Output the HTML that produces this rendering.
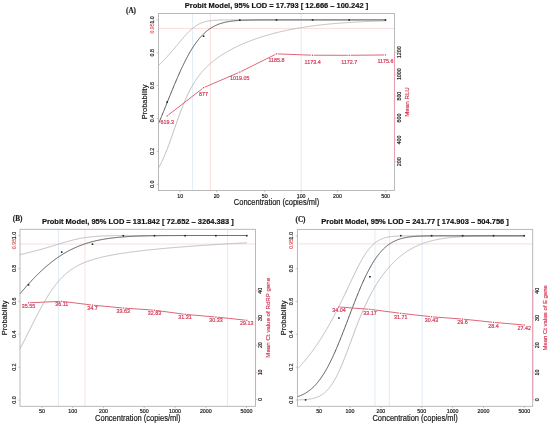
<!DOCTYPE html>
<html><head><meta charset="utf-8"><title>Probit Model plots</title>
<style>
html,body{margin:0;padding:0;background:#fff;}
body{width:550px;height:425px;overflow:hidden;}
svg{display:block;}
#w{width:550px;height:425px;}
text{font-family:'Liberation Sans', Arial, sans-serif;stroke-width:0.18px;}
</style></head><body>
<div id="w"><svg width="550" height="425" viewBox="0 0 550 425">
<rect width="550" height="425" fill="#fff"/>
<g>
<line x1="192.61" y1="13.5" x2="192.61" y2="190.5" stroke="#dde9f5" stroke-width="0.9"/>
<line x1="301.23" y1="13.5" x2="301.23" y2="190.5" stroke="#dde9f5" stroke-width="0.9"/>
<line x1="210.46" y1="13.5" x2="210.46" y2="190.5" stroke="#f9dcdc" stroke-width="0.9"/>
<line x1="158.5" y1="28.4" x2="394.5" y2="28.4" stroke="#f9dcdc" stroke-width="1.0"/>
<polyline points="158.5,65.57 159,65.07 159.5,64.57 160,64.07 160.5,63.57 161,63.06 161.5,62.55 162,62.04 162.5,61.52 163,61 163.5,60.48 164,59.96 164.5,59.43 165,58.9 165.5,58.37 166,57.83 166.5,57.29 167,56.74 167.5,56.2 168,55.65 168.5,55.09 169,54.54 169.5,53.98 170,53.41 170.5,52.85 171,52.28 171.5,51.71 172,51.13 172.5,50.55 173,49.97 173.5,49.39 174,48.8 174.5,48.21 175,47.62 175.5,47.03 176,46.43 176.5,45.84 177,45.24 177.5,44.64 178,44.04 178.5,43.44 179,42.84 179.5,42.24 180,41.65 180.5,41.05 181,40.46 181.5,39.86 182,39.27 182.5,38.69 183,38.1 183.5,37.53 184,36.95 184.5,36.38 185,35.82 185.5,35.26 186,34.71 186.5,34.17 187,33.64 187.5,33.11 188,32.59 188.5,32.08 189,31.58 189.5,31.1 190,30.62 190.5,30.15 191,29.69 191.5,29.25 192,28.81 192.5,28.39 193,27.98 193.5,27.59 194,27.2 194.5,26.83 195,26.47 195.5,26.12 196,25.78 196.5,25.46 197,25.15 197.5,24.85 198,24.57 198.5,24.3 199,24.03 199.5,23.78 200,23.54 200.5,23.32 201,23.1 201.5,22.9 202,22.7 202.5,22.51 203,22.34 203.5,22.17 204,22.02 204.5,21.87 205,21.73 205.5,21.6 206,21.47 206.5,21.36 207,21.25 207.5,21.15 208,21.05 208.5,20.96 209,20.88 209.5,20.8 210,20.73 210.5,20.66 211,20.6 211.5,20.54 212,20.49 212.5,20.44 213,20.39 213.5,20.35 214,20.31 214.5,20.27 215,20.24 215.5,20.21 216,20.18 216.5,20.15 217,20.13 217.5,20.11 218,20.09 218.5,20.07 219,20.05 219.5,20.04 220,20.03 220.5,20.01 221,20 221.5,19.99 222,19.98 222.5,19.97 223,19.97 223.5,19.96 224,19.95 224.5,19.95 225,19.94 225.5,19.94 226,19.93 226.5,19.93 227,19.93 227.5,19.92 228,19.92 228.5,19.92 229,19.92 229.5,19.91 230,19.91 230.5,19.91 231,19.91 231.5,19.91 232,19.91 232.5,19.91 233,19.91 233.5,19.91 234,19.9 234.5,19.9 235,19.9 235.5,19.9 236,19.9 236.5,19.9 237,19.9 237.5,19.9 238,19.9 238.5,19.9 239,19.9 239.5,19.9 240,19.9 240.5,19.9 241,19.9 241.5,19.9 242,19.9 242.5,19.9 243,19.9 243.5,19.9 244,19.9 244.5,19.9 245,19.9 245.5,19.9 246,19.9 246.5,19.9 247,19.9 247.5,19.9 248,19.9 248.5,19.9 249,19.9 249.5,19.9 250,19.9 250.5,19.9 251,19.9 251.5,19.9 252,19.9 252.5,19.9 253,19.9 253.5,19.9 254,19.9 254.5,19.9 255,19.9 255.5,19.9 256,19.9 256.5,19.9 257,19.9 257.5,19.9 258,19.9 258.5,19.9 259,19.9 259.5,19.9 260,19.9 260.5,19.9 261,19.9 261.5,19.9 262,19.9 262.5,19.9 263,19.9 263.5,19.9 264,19.9 264.5,19.9 265,19.9 265.5,19.9 266,19.9 266.5,19.9 267,19.9 267.5,19.9 268,19.9 268.5,19.9 269,19.9 269.5,19.9 270,19.9 270.5,19.9 271,19.9 271.5,19.9 272,19.9 272.5,19.9 273,19.9 273.5,19.9 274,19.9 274.5,19.9 275,19.9 275.5,19.9 276,19.9 276.5,19.9 277,19.9 277.5,19.9 278,19.9 278.5,19.9 279,19.9 279.5,19.9 280,19.9 280.5,19.9 281,19.9 281.5,19.9 282,19.9 282.5,19.9 283,19.9 283.5,19.9 284,19.9 284.5,19.9 285,19.9 285.5,19.9 286,19.9 286.5,19.9 287,19.9 287.5,19.9 288,19.9 288.5,19.9 289,19.9 289.5,19.9 290,19.9 290.5,19.9 291,19.9 291.5,19.9 292,19.9 292.5,19.9 293,19.9 293.5,19.9 294,19.9 294.5,19.9 295,19.9 295.5,19.9 296,19.9 296.5,19.9 297,19.9 297.5,19.9 298,19.9 298.5,19.9 299,19.9 299.5,19.9 300,19.9 300.5,19.9 301,19.9 301.5,19.9 302,19.9 302.5,19.9 303,19.9 303.5,19.9 304,19.9 304.5,19.9 305,19.9 305.5,19.9 306,19.9 306.5,19.9 307,19.9 307.5,19.9 308,19.9 308.5,19.9 309,19.9 309.5,19.9 310,19.9 310.5,19.9 311,19.9 311.5,19.9 312,19.9 312.5,19.9 313,19.9 313.5,19.9 314,19.9 314.5,19.9 315,19.9 315.5,19.9 316,19.9 316.5,19.9 317,19.9 317.5,19.9 318,19.9 318.5,19.9 319,19.9 319.5,19.9 320,19.9 320.5,19.9 321,19.9 321.5,19.9 322,19.9 322.5,19.9 323,19.9 323.5,19.9 324,19.9 324.5,19.9 325,19.9 325.5,19.9 326,19.9 326.5,19.9 327,19.9 327.5,19.9 328,19.9 328.5,19.9 329,19.9 329.5,19.9 330,19.9 330.5,19.9 331,19.9 331.5,19.9 332,19.9 332.5,19.9 333,19.9 333.5,19.9 334,19.9 334.5,19.9 335,19.9 335.5,19.9 336,19.9 336.5,19.9 337,19.9 337.5,19.9 338,19.9 338.5,19.9 339,19.9 339.5,19.9 340,19.9 340.5,19.9 341,19.9 341.5,19.9 342,19.9 342.5,19.9 343,19.9 343.5,19.9 344,19.9 344.5,19.9 345,19.9 345.5,19.9 346,19.9 346.5,19.9 347,19.9 347.5,19.9 348,19.9 348.5,19.9 349,19.9 349.5,19.9 350,19.9 350.5,19.9 351,19.9 351.5,19.9 352,19.9 352.5,19.9 353,19.9 353.5,19.9 354,19.9 354.5,19.9 355,19.9 355.5,19.9 356,19.9 356.5,19.9 357,19.9 357.5,19.9 358,19.9 358.5,19.9 359,19.9 359.5,19.9 360,19.9 360.5,19.9 361,19.9 361.5,19.9 362,19.9 362.5,19.9 363,19.9 363.5,19.9 364,19.9 364.5,19.9 365,19.9 365.5,19.9 366,19.9 366.5,19.9 367,19.9 367.5,19.9 368,19.9 368.5,19.9 369,19.9 369.5,19.9 370,19.9 370.5,19.9 371,19.9 371.5,19.9 372,19.9 372.5,19.9 373,19.9 373.5,19.9 374,19.9 374.5,19.9 375,19.9 375.5,19.9 376,19.9 376.5,19.9 377,19.9 377.5,19.9 378,19.9 378.5,19.9 379,19.9 379.5,19.9 380,19.9 380.5,19.9 381,19.9 381.5,19.9 382,19.9 382.5,19.9 383,19.9 383.5,19.9 384,19.9 384.5,19.9 385,19.9 385.5,19.9" fill="none" stroke="#a8a8a8" stroke-width="0.75" stroke-linejoin="round" stroke-linecap="round"/>
<polyline points="158.5,167.88 159,167.02 159.5,166.14 160,165.22 160.5,164.28 161,163.3 161.5,162.3 162,161.28 162.5,160.22 163,159.14 163.5,158.03 164,156.89 164.5,155.73 165,154.54 165.5,153.33 166,152.1 166.5,150.85 167,149.57 167.5,148.27 168,146.96 168.5,145.63 169,144.28 169.5,142.91 170,141.54 170.5,140.15 171,138.75 171.5,137.34 172,135.92 172.5,134.49 173,133.06 173.5,131.63 174,130.19 174.5,128.76 175,127.32 175.5,125.89 176,124.46 176.5,123.03 177,121.61 177.5,120.2 178,118.8 178.5,117.41 179,116.03 179.5,114.66 180,113.3 180.5,111.96 181,110.64 181.5,109.33 182,108.04 182.5,106.77 183,105.51 183.5,104.28 184,103.06 184.5,101.86 185,100.69 185.5,99.53 186,98.39 186.5,97.28 187,96.19 187.5,95.11 188,94.06 188.5,93.03 189,92.02 189.5,91.03 190,90.06 190.5,89.11 191,88.18 191.5,87.27 192,86.38 192.5,85.51 193,84.66 193.5,83.82 194,83 194.5,82.2 195,81.42 195.5,80.65 196,79.9 196.5,79.17 197,78.45 197.5,77.74 198,77.05 198.5,76.38 199,75.72 199.5,75.07 200,74.43 200.5,73.81 201,73.2 201.5,72.6 202,72.01 202.5,71.43 203,70.86 203.5,70.31 204,69.76 204.5,69.22 205,68.7 205.5,68.18 206,67.67 206.5,67.17 207,66.68 207.5,66.2 208,65.72 208.5,65.25 209,64.79 209.5,64.34 210,63.89 210.5,63.45 211,63.02 211.5,62.59 212,62.17 212.5,61.76 213,61.35 213.5,60.95 214,60.55 214.5,60.16 215,59.77 215.5,59.39 216,59.02 216.5,58.64 217,58.28 217.5,57.92 218,57.56 218.5,57.21 219,56.86 219.5,56.51 220,56.17 220.5,55.84 221,55.5 221.5,55.18 222,54.85 222.5,54.53 223,54.21 223.5,53.9 224,53.59 224.5,53.28 225,52.98 225.5,52.68 226,52.38 226.5,52.08 227,51.79 227.5,51.5 228,51.22 228.5,50.94 229,50.66 229.5,50.38 230,50.11 230.5,49.83 231,49.57 231.5,49.3 232,49.04 232.5,48.77 233,48.51 233.5,48.26 234,48 234.5,47.75 235,47.5 235.5,47.26 236,47.01 236.5,46.77 237,46.53 237.5,46.29 238,46.05 238.5,45.82 239,45.59 239.5,45.36 240,45.13 240.5,44.9 241,44.68 241.5,44.46 242,44.24 242.5,44.02 243,43.8 243.5,43.59 244,43.37 244.5,43.16 245,42.95 245.5,42.75 246,42.54 246.5,42.34 247,42.13 247.5,41.93 248,41.73 248.5,41.54 249,41.34 249.5,41.15 250,40.95 250.5,40.76 251,40.57 251.5,40.38 252,40.2 252.5,40.01 253,39.83 253.5,39.65 254,39.47 254.5,39.29 255,39.11 255.5,38.93 256,38.76 256.5,38.59 257,38.41 257.5,38.24 258,38.07 258.5,37.91 259,37.74 259.5,37.57 260,37.41 260.5,37.25 261,37.09 261.5,36.93 262,36.77 262.5,36.61 263,36.46 263.5,36.3 264,36.15 264.5,35.99 265,35.84 265.5,35.69 266,35.54 266.5,35.4 267,35.25 267.5,35.11 268,34.96 268.5,34.82 269,34.68 269.5,34.54 270,34.4 270.5,34.26 271,34.12 271.5,33.99 272,33.85 272.5,33.72 273,33.58 273.5,33.45 274,33.32 274.5,33.19 275,33.06 275.5,32.94 276,32.81 276.5,32.68 277,32.56 277.5,32.44 278,32.31 278.5,32.19 279,32.07 279.5,31.95 280,31.83 280.5,31.72 281,31.6 281.5,31.49 282,31.37 282.5,31.26 283,31.14 283.5,31.03 284,30.92 284.5,30.81 285,30.7 285.5,30.6 286,30.49 286.5,30.38 287,30.28 287.5,30.17 288,30.07 288.5,29.97 289,29.86 289.5,29.76 290,29.66 290.5,29.56 291,29.47 291.5,29.37 292,29.27 292.5,29.18 293,29.08 293.5,28.99 294,28.89 294.5,28.8 295,28.71 295.5,28.62 296,28.53 296.5,28.44 297,28.35 297.5,28.26 298,28.17 298.5,28.09 299,28 299.5,27.92 300,27.83 300.5,27.75 301,27.67 301.5,27.59 302,27.5 302.5,27.42 303,27.34 303.5,27.27 304,27.19 304.5,27.11 305,27.03 305.5,26.96 306,26.88 306.5,26.81 307,26.73 307.5,26.66 308,26.59 308.5,26.51 309,26.44 309.5,26.37 310,26.3 310.5,26.23 311,26.16 311.5,26.09 312,26.03 312.5,25.96 313,25.89 313.5,25.83 314,25.76 314.5,25.7 315,25.63 315.5,25.57 316,25.51 316.5,25.45 317,25.38 317.5,25.32 318,25.26 318.5,25.2 319,25.14 319.5,25.09 320,25.03 320.5,24.97 321,24.91 321.5,24.86 322,24.8 322.5,24.74 323,24.69 323.5,24.64 324,24.58 324.5,24.53 325,24.48 325.5,24.42 326,24.37 326.5,24.32 327,24.27 327.5,24.22 328,24.17 328.5,24.12 329,24.07 329.5,24.02 330,23.98 330.5,23.93 331,23.88 331.5,23.84 332,23.79 332.5,23.74 333,23.7 333.5,23.65 334,23.61 334.5,23.57 335,23.52 335.5,23.48 336,23.44 336.5,23.4 337,23.35 337.5,23.31 338,23.27 338.5,23.23 339,23.19 339.5,23.15 340,23.11 340.5,23.08 341,23.04 341.5,23 342,22.96 342.5,22.93 343,22.89 343.5,22.85 344,22.82 344.5,22.78 345,22.75 345.5,22.71 346,22.68 346.5,22.64 347,22.61 347.5,22.58 348,22.54 348.5,22.51 349,22.48 349.5,22.45 350,22.42 350.5,22.38 351,22.35 351.5,22.32 352,22.29 352.5,22.26 353,22.23 353.5,22.2 354,22.18 354.5,22.15 355,22.12 355.5,22.09 356,22.06 356.5,22.04 357,22.01 357.5,21.98 358,21.96 358.5,21.93 359,21.9 359.5,21.88 360,21.85 360.5,21.83 361,21.8 361.5,21.78 362,21.76 362.5,21.73 363,21.71 363.5,21.68 364,21.66 364.5,21.64 365,21.62 365.5,21.59 366,21.57 366.5,21.55 367,21.53 367.5,21.51 368,21.49 368.5,21.47 369,21.44 369.5,21.42 370,21.4 370.5,21.38 371,21.37 371.5,21.35 372,21.33 372.5,21.31 373,21.29 373.5,21.27 374,21.25 374.5,21.23 375,21.22 375.5,21.2 376,21.18 376.5,21.16 377,21.15 377.5,21.13 378,21.11 378.5,21.1 379,21.08 379.5,21.07 380,21.05 380.5,21.03 381,21.02 381.5,21 382,20.99 382.5,20.97 383,20.96 383.5,20.94 384,20.93 384.5,20.92 385,20.9 385.5,20.89" fill="none" stroke="#a8a8a8" stroke-width="0.75" stroke-linejoin="round" stroke-linecap="round"/>
<polyline points="158.5,123.61 159,122.43 159.5,121.25 160,120.06 160.5,118.86 161,117.66 161.5,116.45 162,115.24 162.5,114.02 163,112.8 163.5,111.57 164,110.35 164.5,109.11 165,107.88 165.5,106.64 166,105.41 166.5,104.17 167,102.93 167.5,101.69 168,100.45 168.5,99.21 169,97.97 169.5,96.73 170,95.5 170.5,94.27 171,93.04 171.5,91.81 172,90.59 172.5,89.37 173,88.15 173.5,86.94 174,85.74 174.5,84.54 175,83.35 175.5,82.16 176,80.99 176.5,79.81 177,78.65 177.5,77.49 178,76.35 178.5,75.21 179,74.08 179.5,72.96 180,71.85 180.5,70.75 181,69.66 181.5,68.58 182,67.51 182.5,66.45 183,65.4 183.5,64.37 184,63.35 184.5,62.34 185,61.34 185.5,60.35 186,59.38 186.5,58.42 187,57.47 187.5,56.54 188,55.62 188.5,54.71 189,53.82 189.5,52.94 190,52.07 190.5,51.22 191,50.38 191.5,49.56 192,48.75 192.5,47.95 193,47.17 193.5,46.4 194,45.65 194.5,44.91 195,44.19 195.5,43.48 196,42.78 196.5,42.1 197,41.43 197.5,40.78 198,40.14 198.5,39.51 199,38.9 199.5,38.3 200,37.72 200.5,37.14 201,36.59 201.5,36.04 202,35.51 202.5,34.99 203,34.48 203.5,33.99 204,33.51 204.5,33.04 205,32.59 205.5,32.14 206,31.71 206.5,31.29 207,30.88 207.5,30.49 208,30.1 208.5,29.73 209,29.36 209.5,29.01 210,28.67 210.5,28.33 211,28.01 211.5,27.7 212,27.4 212.5,27.1 213,26.82 213.5,26.55 214,26.28 214.5,26.02 215,25.77 215.5,25.53 216,25.3 216.5,25.08 217,24.86 217.5,24.65 218,24.45 218.5,24.26 219,24.07 219.5,23.89 220,23.72 220.5,23.55 221,23.39 221.5,23.23 222,23.08 222.5,22.94 223,22.8 223.5,22.67 224,22.54 224.5,22.42 225,22.3 225.5,22.19 226,22.08 226.5,21.98 227,21.88 227.5,21.78 228,21.69 228.5,21.6 229,21.52 229.5,21.44 230,21.36 230.5,21.29 231,21.22 231.5,21.15 232,21.09 232.5,21.03 233,20.97 233.5,20.91 234,20.86 234.5,20.81 235,20.76 235.5,20.72 236,20.67 236.5,20.63 237,20.59 237.5,20.56 238,20.52 238.5,20.49 239,20.45 239.5,20.42 240,20.39 240.5,20.37 241,20.34 241.5,20.31 242,20.29 242.5,20.27 243,20.25 243.5,20.23 244,20.21 244.5,20.19 245,20.17 245.5,20.16 246,20.14 246.5,20.13 247,20.11 247.5,20.1 248,20.09 248.5,20.08 249,20.07 249.5,20.06 250,20.05 250.5,20.04 251,20.03 251.5,20.02 252,20.01 252.5,20.01 253,20 253.5,19.99 254,19.99 254.5,19.98 255,19.98 255.5,19.97 256,19.97 256.5,19.96 257,19.96 257.5,19.95 258,19.95 258.5,19.95 259,19.94 259.5,19.94 260,19.94 260.5,19.94 261,19.93 261.5,19.93 262,19.93 262.5,19.93 263,19.92 263.5,19.92 264,19.92 264.5,19.92 265,19.92 265.5,19.92 266,19.92 266.5,19.91 267,19.91 267.5,19.91 268,19.91 268.5,19.91 269,19.91 269.5,19.91 270,19.91 270.5,19.91 271,19.91 271.5,19.91 272,19.91 272.5,19.91 273,19.91 273.5,19.9 274,19.9 274.5,19.9 275,19.9 275.5,19.9 276,19.9 276.5,19.9 277,19.9 277.5,19.9 278,19.9 278.5,19.9 279,19.9 279.5,19.9 280,19.9 280.5,19.9 281,19.9 281.5,19.9 282,19.9 282.5,19.9 283,19.9 283.5,19.9 284,19.9 284.5,19.9 285,19.9 285.5,19.9 286,19.9 286.5,19.9 287,19.9 287.5,19.9 288,19.9 288.5,19.9 289,19.9 289.5,19.9 290,19.9 290.5,19.9 291,19.9 291.5,19.9 292,19.9 292.5,19.9 293,19.9 293.5,19.9 294,19.9 294.5,19.9 295,19.9 295.5,19.9 296,19.9 296.5,19.9 297,19.9 297.5,19.9 298,19.9 298.5,19.9 299,19.9 299.5,19.9 300,19.9 300.5,19.9 301,19.9 301.5,19.9 302,19.9 302.5,19.9 303,19.9 303.5,19.9 304,19.9 304.5,19.9 305,19.9 305.5,19.9 306,19.9 306.5,19.9 307,19.9 307.5,19.9 308,19.9 308.5,19.9 309,19.9 309.5,19.9 310,19.9 310.5,19.9 311,19.9 311.5,19.9 312,19.9 312.5,19.9 313,19.9 313.5,19.9 314,19.9 314.5,19.9 315,19.9 315.5,19.9 316,19.9 316.5,19.9 317,19.9 317.5,19.9 318,19.9 318.5,19.9 319,19.9 319.5,19.9 320,19.9 320.5,19.9 321,19.9 321.5,19.9 322,19.9 322.5,19.9 323,19.9 323.5,19.9 324,19.9 324.5,19.9 325,19.9 325.5,19.9 326,19.9 326.5,19.9 327,19.9 327.5,19.9 328,19.9 328.5,19.9 329,19.9 329.5,19.9 330,19.9 330.5,19.9 331,19.9 331.5,19.9 332,19.9 332.5,19.9 333,19.9 333.5,19.9 334,19.9 334.5,19.9 335,19.9 335.5,19.9 336,19.9 336.5,19.9 337,19.9 337.5,19.9 338,19.9 338.5,19.9 339,19.9 339.5,19.9 340,19.9 340.5,19.9 341,19.9 341.5,19.9 342,19.9 342.5,19.9 343,19.9 343.5,19.9 344,19.9 344.5,19.9 345,19.9 345.5,19.9 346,19.9 346.5,19.9 347,19.9 347.5,19.9 348,19.9 348.5,19.9 349,19.9 349.5,19.9 350,19.9 350.5,19.9 351,19.9 351.5,19.9 352,19.9 352.5,19.9 353,19.9 353.5,19.9 354,19.9 354.5,19.9 355,19.9 355.5,19.9 356,19.9 356.5,19.9 357,19.9 357.5,19.9 358,19.9 358.5,19.9 359,19.9 359.5,19.9 360,19.9 360.5,19.9 361,19.9 361.5,19.9 362,19.9 362.5,19.9 363,19.9 363.5,19.9 364,19.9 364.5,19.9 365,19.9 365.5,19.9 366,19.9 366.5,19.9 367,19.9 367.5,19.9 368,19.9 368.5,19.9 369,19.9 369.5,19.9 370,19.9 370.5,19.9 371,19.9 371.5,19.9 372,19.9 372.5,19.9 373,19.9 373.5,19.9 374,19.9 374.5,19.9 375,19.9 375.5,19.9 376,19.9 376.5,19.9 377,19.9 377.5,19.9 378,19.9 378.5,19.9 379,19.9 379.5,19.9 380,19.9 380.5,19.9 381,19.9 381.5,19.9 382,19.9 382.5,19.9 383,19.9 383.5,19.9 384,19.9 384.5,19.9 385,19.9 385.5,19.9" fill="none" stroke="#555555" stroke-width="1.0" stroke-linejoin="round" stroke-linecap="round"/>
<rect x="166.4" y="101.2" width="1.6" height="1.6" fill="#222"/>
<rect x="202.8" y="35.4" width="1.6" height="1.6" fill="#222"/>
<rect x="239" y="19.2" width="1.6" height="1.6" fill="#222"/>
<rect x="275.7" y="19.2" width="1.6" height="1.6" fill="#222"/>
<rect x="311.8" y="19.2" width="1.6" height="1.6" fill="#222"/>
<rect x="348.4" y="19.2" width="1.6" height="1.6" fill="#222"/>
<rect x="384.7" y="19.2" width="1.6" height="1.6" fill="#222"/>
<line x1="168.31" y1="115.03" x2="202.49" y2="88.53" stroke="#dc6878" stroke-width="1.0"/>
<line x1="204.89" y1="87.12" x2="238.51" y2="72.67" stroke="#dc6878" stroke-width="1.0"/>
<line x1="241.05" y1="71.49" x2="275.25" y2="54.48" stroke="#dc6878" stroke-width="1.0"/>
<line x1="277.9" y1="53.91" x2="311.2" y2="55.16" stroke="#dc6878" stroke-width="1.0"/>
<line x1="314" y1="55.22" x2="347.8" y2="55.29" stroke="#dc6878" stroke-width="1.0"/>
<line x1="350.6" y1="55.28" x2="384.1" y2="54.98" stroke="#dc6878" stroke-width="1.0"/>
<rect x="166.6" y="115.29" width="1.2" height="1.2" fill="#d23a56"/>
<text transform="translate(167.2 124.25) scale(1.0 1.12)" font-size="5.4" fill="#d23a56" text-anchor="middle" stroke="#d23a56">619.3</text>
<rect x="203" y="87.07" width="1.2" height="1.2" fill="#d23a56"/>
<text transform="translate(203.6 96.03) scale(1.0 1.12)" font-size="5.4" fill="#d23a56" text-anchor="middle" stroke="#d23a56">877</text>
<rect x="239.2" y="71.51" width="1.2" height="1.2" fill="#d23a56"/>
<text transform="translate(239.8 80.48) scale(1.0 1.12)" font-size="5.4" fill="#d23a56" text-anchor="middle" stroke="#d23a56">1019.05</text>
<rect x="275.9" y="53.25" width="1.2" height="1.2" fill="#d23a56"/>
<text transform="translate(276.5 62.22) scale(1.0 1.12)" font-size="5.4" fill="#d23a56" text-anchor="middle" stroke="#d23a56">1185.8</text>
<rect x="312" y="54.61" width="1.2" height="1.2" fill="#d23a56"/>
<text transform="translate(312.6 63.58) scale(1.0 1.12)" font-size="5.4" fill="#d23a56" text-anchor="middle" stroke="#d23a56">1173.4</text>
<rect x="348.6" y="54.69" width="1.2" height="1.2" fill="#d23a56"/>
<text transform="translate(349.2 63.65) scale(1.0 1.12)" font-size="5.4" fill="#d23a56" text-anchor="middle" stroke="#d23a56">1172.7</text>
<rect x="384.9" y="54.37" width="1.2" height="1.2" fill="#d23a56"/>
<text transform="translate(385.5 63.34) scale(1.0 1.12)" font-size="5.4" fill="#d23a56" text-anchor="middle" stroke="#d23a56">1175.6</text>
<rect x="158.5" y="13.5" width="236" height="177" fill="none" stroke="#b2b2b2" stroke-width="0.9"/>
<line x1="156.7" y1="184.3" x2="158.5" y2="184.3" stroke="#b2b2b2" stroke-width="0.7"/>
<text transform="translate(154.4 184.3) rotate(-90)" font-size="5.3" fill="#1a1a1a" text-anchor="middle" stroke="#1a1a1a">0.0</text>
<line x1="156.7" y1="151.42" x2="158.5" y2="151.42" stroke="#b2b2b2" stroke-width="0.7"/>
<text transform="translate(154.4 151.42) rotate(-90)" font-size="5.3" fill="#1a1a1a" text-anchor="middle" stroke="#1a1a1a">0.2</text>
<line x1="156.7" y1="118.54" x2="158.5" y2="118.54" stroke="#b2b2b2" stroke-width="0.7"/>
<text transform="translate(154.4 118.54) rotate(-90)" font-size="5.3" fill="#1a1a1a" text-anchor="middle" stroke="#1a1a1a">0.4</text>
<line x1="156.7" y1="85.66" x2="158.5" y2="85.66" stroke="#b2b2b2" stroke-width="0.7"/>
<text transform="translate(154.4 85.66) rotate(-90)" font-size="5.3" fill="#1a1a1a" text-anchor="middle" stroke="#1a1a1a">0.6</text>
<line x1="156.7" y1="52.78" x2="158.5" y2="52.78" stroke="#b2b2b2" stroke-width="0.7"/>
<text transform="translate(154.4 52.78) rotate(-90)" font-size="5.3" fill="#1a1a1a" text-anchor="middle" stroke="#1a1a1a">0.8</text>
<line x1="156.7" y1="19.9" x2="158.5" y2="19.9" stroke="#b2b2b2" stroke-width="0.7"/>
<text transform="translate(154.4 19.9) rotate(-90)" font-size="5.3" fill="#1a1a1a" text-anchor="middle" stroke="#1a1a1a">1.0</text>
<text transform="translate(154.4 28.4) rotate(-90)" font-size="5.3" fill="#e06060" text-anchor="middle" stroke="#e06060">0.95</text>
<text transform="translate(147.47 102) rotate(-90)" font-size="7.45" fill="#1a1a1a" text-anchor="middle" stroke="#1a1a1a">Probability</text>
<line x1="180.2" y1="190.5" x2="180.2" y2="192.3" stroke="#b2b2b2" stroke-width="0.7"/>
<text transform="translate(180.2 197.58) scale(1.0 1.15)" font-size="5.3" fill="#1a1a1a" text-anchor="middle" stroke="#1a1a1a">10</text>
<line x1="216.59" y1="190.5" x2="216.59" y2="192.3" stroke="#b2b2b2" stroke-width="0.7"/>
<text transform="translate(216.59 197.58) scale(1.0 1.15)" font-size="5.3" fill="#1a1a1a" text-anchor="middle" stroke="#1a1a1a">20</text>
<line x1="264.71" y1="190.5" x2="264.71" y2="192.3" stroke="#b2b2b2" stroke-width="0.7"/>
<text transform="translate(264.71 197.58) scale(1.0 1.15)" font-size="5.3" fill="#1a1a1a" text-anchor="middle" stroke="#1a1a1a">50</text>
<line x1="301.1" y1="190.5" x2="301.1" y2="192.3" stroke="#b2b2b2" stroke-width="0.7"/>
<text transform="translate(301.1 197.58) scale(1.0 1.15)" font-size="5.3" fill="#1a1a1a" text-anchor="middle" stroke="#1a1a1a">100</text>
<line x1="337.49" y1="190.5" x2="337.49" y2="192.3" stroke="#b2b2b2" stroke-width="0.7"/>
<text transform="translate(337.49 197.58) scale(1.0 1.15)" font-size="5.3" fill="#1a1a1a" text-anchor="middle" stroke="#1a1a1a">200</text>
<line x1="385.61" y1="190.5" x2="385.61" y2="192.3" stroke="#b2b2b2" stroke-width="0.7"/>
<text transform="translate(385.61 197.58) scale(1.0 1.15)" font-size="5.3" fill="#1a1a1a" text-anchor="middle" stroke="#1a1a1a">500</text>
<text transform="translate(276.5 204.7) scale(1.0 1.18)" font-size="7.5" fill="#1a1a1a" text-anchor="middle" stroke="#1a1a1a">Concentration (copies/ml)</text>
<line x1="394.5" y1="161.8" x2="394.5" y2="52.3" stroke="#e6a0b0" stroke-width="1.1"/>
<line x1="394.5" y1="161.8" x2="396.3" y2="161.8" stroke="#e6a0b0" stroke-width="0.7"/>
<text transform="translate(401.2 161.8) rotate(-90)" font-size="5.3" fill="#1a1a1a" text-anchor="middle" stroke="#1a1a1a">200</text>
<line x1="394.5" y1="139.9" x2="396.3" y2="139.9" stroke="#e6a0b0" stroke-width="0.7"/>
<text transform="translate(401.2 139.9) rotate(-90)" font-size="5.3" fill="#1a1a1a" text-anchor="middle" stroke="#1a1a1a">400</text>
<line x1="394.5" y1="118" x2="396.3" y2="118" stroke="#e6a0b0" stroke-width="0.7"/>
<text transform="translate(401.2 118) rotate(-90)" font-size="5.3" fill="#1a1a1a" text-anchor="middle" stroke="#1a1a1a">600</text>
<line x1="394.5" y1="96.1" x2="396.3" y2="96.1" stroke="#e6a0b0" stroke-width="0.7"/>
<text transform="translate(401.2 96.1) rotate(-90)" font-size="5.3" fill="#1a1a1a" text-anchor="middle" stroke="#1a1a1a">800</text>
<line x1="394.5" y1="74.2" x2="396.3" y2="74.2" stroke="#e6a0b0" stroke-width="0.7"/>
<text transform="translate(401.2 74.2) rotate(-90)" font-size="5.3" fill="#1a1a1a" text-anchor="middle" stroke="#1a1a1a">1000</text>
<line x1="394.5" y1="52.3" x2="396.3" y2="52.3" stroke="#e6a0b0" stroke-width="0.7"/>
<text transform="translate(401.2 52.3) rotate(-90)" font-size="5.3" fill="#1a1a1a" text-anchor="middle" stroke="#1a1a1a">1200</text>
<text transform="translate(408.72 102) rotate(-90)" font-size="6.2" fill="#d23a56" text-anchor="middle" stroke="#d23a56">Mean RLU</text>
<text transform="translate(276.5 8) scale(1.0 1.06)" font-size="7.5" fill="#111" text-anchor="middle" font-weight="bold" stroke="#111">Probit Model, 95% LOD = 17.793 [ 12.666 – 100.242 ]</text>
<text transform="translate(126 12.8)" font-size="7.2" fill="#222" text-anchor="start" font-weight="bold" stroke="#222" style="font-family:'Liberation Serif', 'Times New Roman', serif">(A)</text>
</g>
<g>
<line x1="58.51" y1="229.3" x2="58.51" y2="406.3" stroke="#dde9f5" stroke-width="0.9"/>
<line x1="227.56" y1="229.3" x2="227.56" y2="406.3" stroke="#dde9f5" stroke-width="0.9"/>
<line x1="84.98" y1="229.3" x2="84.98" y2="406.3" stroke="#f9dcdc" stroke-width="0.9"/>
<line x1="20" y1="244" x2="255.5" y2="244" stroke="#f9dcdc" stroke-width="1.0"/>
<polyline points="20,254.62 20.5,254.5 21,254.38 21.5,254.27 22,254.15 22.5,254.03 23,253.91 23.5,253.79 24,253.67 24.5,253.56 25,253.44 25.5,253.32 26,253.19 26.5,253.07 27,252.95 27.5,252.83 28,252.71 28.5,252.59 29,252.46 29.5,252.34 30,252.21 30.5,252.09 31,251.96 31.5,251.84 32,251.71 32.5,251.59 33,251.46 33.5,251.33 34,251.2 34.5,251.07 35,250.94 35.5,250.81 36,250.68 36.5,250.55 37,250.42 37.5,250.29 38,250.15 38.5,250.02 39,249.88 39.5,249.75 40,249.61 40.5,249.48 41,249.34 41.5,249.2 42,249.06 42.5,248.92 43,248.78 43.5,248.64 44,248.5 44.5,248.36 45,248.22 45.5,248.08 46,247.93 46.5,247.79 47,247.64 47.5,247.5 48,247.35 48.5,247.2 49,247.06 49.5,246.91 50,246.76 50.5,246.61 51,246.46 51.5,246.31 52,246.16 52.5,246.01 53,245.86 53.5,245.71 54,245.56 54.5,245.4 55,245.25 55.5,245.1 56,244.95 56.5,244.79 57,244.64 57.5,244.49 58,244.33 58.5,244.18 59,244.03 59.5,243.87 60,243.72 60.5,243.57 61,243.42 61.5,243.27 62,243.12 62.5,242.96 63,242.81 63.5,242.67 64,242.52 64.5,242.37 65,242.22 65.5,242.08 66,241.93 66.5,241.79 67,241.64 67.5,241.5 68,241.36 68.5,241.22 69,241.08 69.5,240.95 70,240.81 70.5,240.68 71,240.54 71.5,240.41 72,240.29 72.5,240.16 73,240.03 73.5,239.91 74,239.79 74.5,239.67 75,239.55 75.5,239.43 76,239.32 76.5,239.21 77,239.09 77.5,238.99 78,238.88 78.5,238.78 79,238.67 79.5,238.57 80,238.48 80.5,238.38 81,238.29 81.5,238.19 82,238.1 82.5,238.02 83,237.93 83.5,237.85 84,237.77 84.5,237.69 85,237.61 85.5,237.54 86,237.46 86.5,237.39 87,237.32 87.5,237.25 88,237.19 88.5,237.13 89,237.06 89.5,237 90,236.95 90.5,236.89 91,236.83 91.5,236.78 92,236.73 92.5,236.68 93,236.63 93.5,236.59 94,236.54 94.5,236.5 95,236.46 95.5,236.42 96,236.38 96.5,236.34 97,236.3 97.5,236.27 98,236.24 98.5,236.2 99,236.17 99.5,236.14 100,236.11 100.5,236.09 101,236.06 101.5,236.03 102,236.01 102.5,235.99 103,235.96 103.5,235.94 104,235.92 104.5,235.9 105,235.88 105.5,235.86 106,235.84 106.5,235.83 107,235.81 107.5,235.8 108,235.78 108.5,235.77 109,235.75 109.5,235.74 110,235.73 110.5,235.72 111,235.71 111.5,235.7 112,235.69 112.5,235.68 113,235.67 113.5,235.66 114,235.65 114.5,235.64 115,235.63 115.5,235.63 116,235.62 116.5,235.61 117,235.61 117.5,235.6 118,235.6 118.5,235.59 119,235.58 119.5,235.58 120,235.58 120.5,235.57 121,235.57 121.5,235.56 122,235.56 122.5,235.56 123,235.55 123.5,235.55 124,235.55 124.5,235.54 125,235.54 125.5,235.54 126,235.54 126.5,235.53 127,235.53 127.5,235.53 128,235.53 128.5,235.53 129,235.53 129.5,235.52 130,235.52 130.5,235.52 131,235.52 131.5,235.52 132,235.52 132.5,235.52 133,235.51 133.5,235.51 134,235.51 134.5,235.51 135,235.51 135.5,235.51 136,235.51 136.5,235.51 137,235.51 137.5,235.51 138,235.51 138.5,235.51 139,235.51 139.5,235.51 140,235.51 140.5,235.51 141,235.5 141.5,235.5 142,235.5 142.5,235.5 143,235.5 143.5,235.5 144,235.5 144.5,235.5 145,235.5 145.5,235.5 146,235.5 146.5,235.5 147,235.5 147.5,235.5 148,235.5 148.5,235.5 149,235.5 149.5,235.5 150,235.5 150.5,235.5 151,235.5 151.5,235.5 152,235.5 152.5,235.5 153,235.5 153.5,235.5 154,235.5 154.5,235.5 155,235.5 155.5,235.5 156,235.5 156.5,235.5 157,235.5 157.5,235.5 158,235.5 158.5,235.5 159,235.5 159.5,235.5 160,235.5 160.5,235.5 161,235.5 161.5,235.5 162,235.5 162.5,235.5 163,235.5 163.5,235.5 164,235.5 164.5,235.5 165,235.5 165.5,235.5 166,235.5 166.5,235.5 167,235.5 167.5,235.5 168,235.5 168.5,235.5 169,235.5 169.5,235.5 170,235.5 170.5,235.5 171,235.5 171.5,235.5 172,235.5 172.5,235.5 173,235.5 173.5,235.5 174,235.5 174.5,235.5 175,235.5 175.5,235.5 176,235.5 176.5,235.5 177,235.5 177.5,235.5 178,235.5 178.5,235.5 179,235.5 179.5,235.5 180,235.5 180.5,235.5 181,235.5 181.5,235.5 182,235.5 182.5,235.5 183,235.5 183.5,235.5 184,235.5 184.5,235.5 185,235.5 185.5,235.5 186,235.5 186.5,235.5 187,235.5 187.5,235.5 188,235.5 188.5,235.5 189,235.5 189.5,235.5 190,235.5 190.5,235.5 191,235.5 191.5,235.5 192,235.5 192.5,235.5 193,235.5 193.5,235.5 194,235.5 194.5,235.5 195,235.5 195.5,235.5 196,235.5 196.5,235.5 197,235.5 197.5,235.5 198,235.5 198.5,235.5 199,235.5 199.5,235.5 200,235.5 200.5,235.5 201,235.5 201.5,235.5 202,235.5 202.5,235.5 203,235.5 203.5,235.5 204,235.5 204.5,235.5 205,235.5 205.5,235.5 206,235.5 206.5,235.5 207,235.5 207.5,235.5 208,235.5 208.5,235.5 209,235.5 209.5,235.5 210,235.5 210.5,235.5 211,235.5 211.5,235.5 212,235.5 212.5,235.5 213,235.5 213.5,235.5 214,235.5 214.5,235.5 215,235.5 215.5,235.5 216,235.5 216.5,235.5 217,235.5 217.5,235.5 218,235.5 218.5,235.5 219,235.5 219.5,235.5 220,235.5 220.5,235.5 221,235.5 221.5,235.5 222,235.5 222.5,235.5 223,235.5 223.5,235.5 224,235.5 224.5,235.5 225,235.5 225.5,235.5 226,235.5 226.5,235.5 227,235.5 227.5,235.5 228,235.5 228.5,235.5 229,235.5 229.5,235.5 230,235.5 230.5,235.5 231,235.5 231.5,235.5 232,235.5 232.5,235.5 233,235.5 233.5,235.5 234,235.5 234.5,235.5 235,235.5 235.5,235.5 236,235.5 236.5,235.5 237,235.5 237.5,235.5 238,235.5 238.5,235.5 239,235.5 239.5,235.5 240,235.5 240.5,235.5 241,235.5 241.5,235.5 242,235.5 242.5,235.5 243,235.5 243.5,235.5 244,235.5 244.5,235.5 245,235.5 245.5,235.5 246,235.5 246.5,235.5" fill="none" stroke="#a8a8a8" stroke-width="0.75" stroke-linejoin="round" stroke-linecap="round"/>
<polyline points="20,348.74 20.5,347.8 21,346.85 21.5,345.89 22,344.93 22.5,343.97 23,343 23.5,342.02 24,341.05 24.5,340.07 25,339.08 25.5,338.09 26,337.1 26.5,336.11 27,335.12 27.5,334.12 28,333.13 28.5,332.13 29,331.13 29.5,330.13 30,329.13 30.5,328.14 31,327.14 31.5,326.14 32,325.15 32.5,324.15 33,323.16 33.5,322.17 34,321.19 34.5,320.2 35,319.22 35.5,318.24 36,317.27 36.5,316.3 37,315.34 37.5,314.38 38,313.42 38.5,312.47 39,311.53 39.5,310.59 40,309.66 40.5,308.73 41,307.81 41.5,306.9 42,305.99 42.5,305.1 43,304.21 43.5,303.32 44,302.45 44.5,301.58 45,300.73 45.5,299.88 46,299.04 46.5,298.21 47,297.38 47.5,296.57 48,295.77 48.5,294.97 49,294.19 49.5,293.42 50,292.65 50.5,291.9 51,291.16 51.5,290.42 52,289.7 52.5,288.99 53,288.29 53.5,287.6 54,286.92 54.5,286.25 55,285.59 55.5,284.94 56,284.3 56.5,283.67 57,283.06 57.5,282.45 58,281.85 58.5,281.27 59,280.69 59.5,280.13 60,279.57 60.5,279.03 61,278.5 61.5,277.97 62,277.46 62.5,276.96 63,276.46 63.5,275.98 64,275.5 64.5,275.04 65,274.58 65.5,274.14 66,273.7 66.5,273.27 67,272.85 67.5,272.44 68,272.04 68.5,271.64 69,271.25 69.5,270.88 70,270.51 70.5,270.14 71,269.79 71.5,269.44 72,269.1 72.5,268.77 73,268.44 73.5,268.12 74,267.81 74.5,267.5 75,267.2 75.5,266.9 76,266.62 76.5,266.33 77,266.06 77.5,265.79 78,265.52 78.5,265.26 79,265.01 79.5,264.76 80,264.51 80.5,264.27 81,264.04 81.5,263.81 82,263.58 82.5,263.36 83,263.14 83.5,262.93 84,262.72 84.5,262.51 85,262.31 85.5,262.11 86,261.92 86.5,261.73 87,261.54 87.5,261.36 88,261.18 88.5,261 89,260.82 89.5,260.65 90,260.48 90.5,260.32 91,260.15 91.5,259.99 92,259.83 92.5,259.68 93,259.53 93.5,259.38 94,259.23 94.5,259.08 95,258.94 95.5,258.8 96,258.66 96.5,258.52 97,258.38 97.5,258.25 98,258.12 98.5,257.99 99,257.86 99.5,257.74 100,257.61 100.5,257.49 101,257.37 101.5,257.25 102,257.13 102.5,257.01 103,256.9 103.5,256.79 104,256.67 104.5,256.56 105,256.45 105.5,256.35 106,256.24 106.5,256.14 107,256.03 107.5,255.93 108,255.83 108.5,255.73 109,255.63 109.5,255.53 110,255.43 110.5,255.34 111,255.24 111.5,255.15 112,255.05 112.5,254.96 113,254.87 113.5,254.78 114,254.69 114.5,254.6 115,254.51 115.5,254.43 116,254.34 116.5,254.26 117,254.17 117.5,254.09 118,254.01 118.5,253.92 119,253.84 119.5,253.76 120,253.68 120.5,253.6 121,253.52 121.5,253.45 122,253.37 122.5,253.29 123,253.22 123.5,253.14 124,253.07 124.5,252.99 125,252.92 125.5,252.85 126,252.78 126.5,252.7 127,252.63 127.5,252.56 128,252.49 128.5,252.42 129,252.35 129.5,252.28 130,252.22 130.5,252.15 131,252.08 131.5,252.02 132,251.95 132.5,251.88 133,251.82 133.5,251.75 134,251.69 134.5,251.63 135,251.56 135.5,251.5 136,251.44 136.5,251.38 137,251.31 137.5,251.25 138,251.19 138.5,251.13 139,251.07 139.5,251.01 140,250.95 140.5,250.89 141,250.83 141.5,250.77 142,250.72 142.5,250.66 143,250.6 143.5,250.54 144,250.49 144.5,250.43 145,250.38 145.5,250.32 146,250.26 146.5,250.21 147,250.15 147.5,250.1 148,250.05 148.5,249.99 149,249.94 149.5,249.88 150,249.83 150.5,249.78 151,249.73 151.5,249.67 152,249.62 152.5,249.57 153,249.52 153.5,249.47 154,249.42 154.5,249.37 155,249.32 155.5,249.27 156,249.22 156.5,249.17 157,249.12 157.5,249.07 158,249.02 158.5,248.97 159,248.92 159.5,248.87 160,248.83 160.5,248.78 161,248.73 161.5,248.68 162,248.64 162.5,248.59 163,248.54 163.5,248.5 164,248.45 164.5,248.4 165,248.36 165.5,248.31 166,248.27 166.5,248.22 167,248.18 167.5,248.13 168,248.09 168.5,248.04 169,248 169.5,247.95 170,247.91 170.5,247.87 171,247.82 171.5,247.78 172,247.74 172.5,247.69 173,247.65 173.5,247.61 174,247.57 174.5,247.52 175,247.48 175.5,247.44 176,247.4 176.5,247.36 177,247.32 177.5,247.27 178,247.23 178.5,247.19 179,247.15 179.5,247.11 180,247.07 180.5,247.03 181,246.99 181.5,246.95 182,246.91 182.5,246.87 183,246.83 183.5,246.79 184,246.75 184.5,246.71 185,246.68 185.5,246.64 186,246.6 186.5,246.56 187,246.52 187.5,246.48 188,246.45 188.5,246.41 189,246.37 189.5,246.33 190,246.29 190.5,246.26 191,246.22 191.5,246.18 192,246.15 192.5,246.11 193,246.07 193.5,246.04 194,246 194.5,245.96 195,245.93 195.5,245.89 196,245.86 196.5,245.82 197,245.79 197.5,245.75 198,245.71 198.5,245.68 199,245.64 199.5,245.61 200,245.57 200.5,245.54 201,245.51 201.5,245.47 202,245.44 202.5,245.4 203,245.37 203.5,245.33 204,245.3 204.5,245.27 205,245.23 205.5,245.2 206,245.17 206.5,245.13 207,245.1 207.5,245.07 208,245.03 208.5,245 209,244.97 209.5,244.94 210,244.9 210.5,244.87 211,244.84 211.5,244.81 212,244.78 212.5,244.74 213,244.71 213.5,244.68 214,244.65 214.5,244.62 215,244.59 215.5,244.55 216,244.52 216.5,244.49 217,244.46 217.5,244.43 218,244.4 218.5,244.37 219,244.34 219.5,244.31 220,244.28 220.5,244.25 221,244.22 221.5,244.19 222,244.16 222.5,244.13 223,244.1 223.5,244.07 224,244.04 224.5,244.01 225,243.98 225.5,243.95 226,243.92 226.5,243.89 227,243.86 227.5,243.84 228,243.81 228.5,243.78 229,243.75 229.5,243.72 230,243.69 230.5,243.66 231,243.64 231.5,243.61 232,243.58 232.5,243.55 233,243.52 233.5,243.5 234,243.47 234.5,243.44 235,243.41 235.5,243.39 236,243.36 236.5,243.33 237,243.31 237.5,243.28 238,243.25 238.5,243.22 239,243.2 239.5,243.17 240,243.14 240.5,243.12 241,243.09 241.5,243.07 242,243.04 242.5,243.01 243,242.99 243.5,242.96 244,242.94 244.5,242.91 245,242.88 245.5,242.86 246,242.83 246.5,242.81" fill="none" stroke="#a8a8a8" stroke-width="0.75" stroke-linejoin="round" stroke-linecap="round"/>
<polyline points="20,293.74 20.5,293.15 21,292.56 21.5,291.97 22,291.38 22.5,290.8 23,290.21 23.5,289.63 24,289.06 24.5,288.48 25,287.91 25.5,287.34 26,286.77 26.5,286.21 27,285.65 27.5,285.09 28,284.53 28.5,283.98 29,283.43 29.5,282.88 30,282.34 30.5,281.8 31,281.26 31.5,280.72 32,280.19 32.5,279.66 33,279.14 33.5,278.61 34,278.09 34.5,277.58 35,277.07 35.5,276.56 36,276.05 36.5,275.55 37,275.05 37.5,274.55 38,274.06 38.5,273.57 39,273.09 39.5,272.6 40,272.12 40.5,271.65 41,271.18 41.5,270.71 42,270.25 42.5,269.79 43,269.33 43.5,268.87 44,268.42 44.5,267.98 45,267.54 45.5,267.1 46,266.66 46.5,266.23 47,265.8 47.5,265.38 48,264.96 48.5,264.54 49,264.13 49.5,263.72 50,263.32 50.5,262.92 51,262.52 51.5,262.12 52,261.73 52.5,261.35 53,260.96 53.5,260.59 54,260.21 54.5,259.84 55,259.47 55.5,259.11 56,258.75 56.5,258.39 57,258.04 57.5,257.69 58,257.34 58.5,257 59,256.67 59.5,256.33 60,256 60.5,255.67 61,255.35 61.5,255.03 62,254.72 62.5,254.4 63,254.1 63.5,253.79 64,253.49 64.5,253.19 65,252.9 65.5,252.61 66,252.32 66.5,252.04 67,251.76 67.5,251.48 68,251.21 68.5,250.94 69,250.67 69.5,250.41 70,250.15 70.5,249.89 71,249.64 71.5,249.39 72,249.15 72.5,248.9 73,248.66 73.5,248.43 74,248.19 74.5,247.97 75,247.74 75.5,247.52 76,247.29 76.5,247.08 77,246.86 77.5,246.65 78,246.44 78.5,246.24 79,246.04 79.5,245.84 80,245.64 80.5,245.45 81,245.26 81.5,245.07 82,244.89 82.5,244.71 83,244.53 83.5,244.35 84,244.18 84.5,244.01 85,243.84 85.5,243.67 86,243.51 86.5,243.35 87,243.19 87.5,243.04 88,242.88 88.5,242.73 89,242.59 89.5,242.44 90,242.3 90.5,242.16 91,242.02 91.5,241.89 92,241.75 92.5,241.62 93,241.49 93.5,241.37 94,241.24 94.5,241.12 95,241 95.5,240.88 96,240.77 96.5,240.65 97,240.54 97.5,240.43 98,240.32 98.5,240.22 99,240.11 99.5,240.01 100,239.91 100.5,239.81 101,239.72 101.5,239.62 102,239.53 102.5,239.44 103,239.35 103.5,239.26 104,239.18 104.5,239.09 105,239.01 105.5,238.93 106,238.85 106.5,238.77 107,238.69 107.5,238.62 108,238.55 108.5,238.47 109,238.4 109.5,238.34 110,238.27 110.5,238.2 111,238.14 111.5,238.07 112,238.01 112.5,237.95 113,237.89 113.5,237.83 114,237.78 114.5,237.72 115,237.66 115.5,237.61 116,237.56 116.5,237.51 117,237.46 117.5,237.41 118,237.36 118.5,237.31 119,237.27 119.5,237.22 120,237.18 120.5,237.14 121,237.09 121.5,237.05 122,237.01 122.5,236.97 123,236.94 123.5,236.9 124,236.86 124.5,236.83 125,236.79 125.5,236.76 126,236.72 126.5,236.69 127,236.66 127.5,236.63 128,236.6 128.5,236.57 129,236.54 129.5,236.51 130,236.48 130.5,236.46 131,236.43 131.5,236.41 132,236.38 132.5,236.36 133,236.33 133.5,236.31 134,236.29 134.5,236.27 135,236.24 135.5,236.22 136,236.2 136.5,236.18 137,236.16 137.5,236.14 138,236.13 138.5,236.11 139,236.09 139.5,236.07 140,236.06 140.5,236.04 141,236.03 141.5,236.01 142,236 142.5,235.98 143,235.97 143.5,235.95 144,235.94 144.5,235.93 145,235.91 145.5,235.9 146,235.89 146.5,235.88 147,235.87 147.5,235.86 148,235.85 148.5,235.83 149,235.82 149.5,235.81 150,235.81 150.5,235.8 151,235.79 151.5,235.78 152,235.77 152.5,235.76 153,235.75 153.5,235.75 154,235.74 154.5,235.73 155,235.72 155.5,235.72 156,235.71 156.5,235.7 157,235.7 157.5,235.69 158,235.68 158.5,235.68 159,235.67 159.5,235.67 160,235.66 160.5,235.66 161,235.65 161.5,235.65 162,235.64 162.5,235.64 163,235.63 163.5,235.63 164,235.62 164.5,235.62 165,235.62 165.5,235.61 166,235.61 166.5,235.6 167,235.6 167.5,235.6 168,235.59 168.5,235.59 169,235.59 169.5,235.59 170,235.58 170.5,235.58 171,235.58 171.5,235.57 172,235.57 172.5,235.57 173,235.57 173.5,235.56 174,235.56 174.5,235.56 175,235.56 175.5,235.56 176,235.55 176.5,235.55 177,235.55 177.5,235.55 178,235.55 178.5,235.55 179,235.54 179.5,235.54 180,235.54 180.5,235.54 181,235.54 181.5,235.54 182,235.53 182.5,235.53 183,235.53 183.5,235.53 184,235.53 184.5,235.53 185,235.53 185.5,235.53 186,235.53 186.5,235.53 187,235.52 187.5,235.52 188,235.52 188.5,235.52 189,235.52 189.5,235.52 190,235.52 190.5,235.52 191,235.52 191.5,235.52 192,235.52 192.5,235.52 193,235.52 193.5,235.51 194,235.51 194.5,235.51 195,235.51 195.5,235.51 196,235.51 196.5,235.51 197,235.51 197.5,235.51 198,235.51 198.5,235.51 199,235.51 199.5,235.51 200,235.51 200.5,235.51 201,235.51 201.5,235.51 202,235.51 202.5,235.51 203,235.51 203.5,235.51 204,235.51 204.5,235.51 205,235.51 205.5,235.51 206,235.51 206.5,235.51 207,235.5 207.5,235.5 208,235.5 208.5,235.5 209,235.5 209.5,235.5 210,235.5 210.5,235.5 211,235.5 211.5,235.5 212,235.5 212.5,235.5 213,235.5 213.5,235.5 214,235.5 214.5,235.5 215,235.5 215.5,235.5 216,235.5 216.5,235.5 217,235.5 217.5,235.5 218,235.5 218.5,235.5 219,235.5 219.5,235.5 220,235.5 220.5,235.5 221,235.5 221.5,235.5 222,235.5 222.5,235.5 223,235.5 223.5,235.5 224,235.5 224.5,235.5 225,235.5 225.5,235.5 226,235.5 226.5,235.5 227,235.5 227.5,235.5 228,235.5 228.5,235.5 229,235.5 229.5,235.5 230,235.5 230.5,235.5 231,235.5 231.5,235.5 232,235.5 232.5,235.5 233,235.5 233.5,235.5 234,235.5 234.5,235.5 235,235.5 235.5,235.5 236,235.5 236.5,235.5 237,235.5 237.5,235.5 238,235.5 238.5,235.5 239,235.5 239.5,235.5 240,235.5 240.5,235.5 241,235.5 241.5,235.5 242,235.5 242.5,235.5 243,235.5 243.5,235.5 244,235.5 244.5,235.5 245,235.5 245.5,235.5 246,235.5 246.5,235.5" fill="none" stroke="#555555" stroke-width="1.0" stroke-linejoin="round" stroke-linecap="round"/>
<rect x="27.7" y="284" width="1.6" height="1.6" fill="#222"/>
<rect x="60.9" y="251.3" width="1.6" height="1.6" fill="#222"/>
<rect x="91.7" y="243.4" width="1.6" height="1.6" fill="#222"/>
<rect x="122.5" y="234.9" width="1.6" height="1.6" fill="#222"/>
<rect x="153.7" y="234.9" width="1.6" height="1.6" fill="#222"/>
<rect x="184.3" y="234.9" width="1.6" height="1.6" fill="#222"/>
<rect x="215.1" y="234.9" width="1.6" height="1.6" fill="#222"/>
<rect x="246" y="234.9" width="1.6" height="1.6" fill="#222"/>
<line x1="29.9" y1="302.75" x2="60.3" y2="301.35" stroke="#dc6878" stroke-width="1.0"/>
<line x1="63.09" y1="301.46" x2="91.11" y2="304.96" stroke="#dc6878" stroke-width="1.0"/>
<line x1="93.89" y1="305.26" x2="121.91" y2="307.91" stroke="#dc6878" stroke-width="1.0"/>
<line x1="124.7" y1="308.14" x2="153.1" y2="310.12" stroke="#dc6878" stroke-width="1.0"/>
<line x1="155.89" y1="310.41" x2="183.71" y2="314.17" stroke="#dc6878" stroke-width="1.0"/>
<line x1="186.49" y1="314.48" x2="214.51" y2="316.91" stroke="#dc6878" stroke-width="1.0"/>
<line x1="217.29" y1="317.17" x2="245.41" y2="320.15" stroke="#dc6878" stroke-width="1.0"/>
<rect x="27.9" y="302.22" width="1.2" height="1.2" fill="#d23a56"/>
<text transform="translate(28.5 307.58) scale(1.0 1.12)" font-size="5.4" fill="#d23a56" text-anchor="middle" stroke="#d23a56">35.55</text>
<rect x="61.1" y="300.69" width="1.2" height="1.2" fill="#d23a56"/>
<text transform="translate(61.7 306.06) scale(1.0 1.12)" font-size="5.4" fill="#d23a56" text-anchor="middle" stroke="#d23a56">36.11</text>
<rect x="91.9" y="304.53" width="1.2" height="1.2" fill="#d23a56"/>
<text transform="translate(92.5 309.89) scale(1.0 1.12)" font-size="5.4" fill="#d23a56" text-anchor="middle" stroke="#d23a56">34.7</text>
<rect x="122.7" y="307.44" width="1.2" height="1.2" fill="#d23a56"/>
<text transform="translate(123.3 312.81) scale(1.0 1.12)" font-size="5.4" fill="#d23a56" text-anchor="middle" stroke="#d23a56">33.63</text>
<rect x="153.9" y="309.62" width="1.2" height="1.2" fill="#d23a56"/>
<text transform="translate(154.5 314.99) scale(1.0 1.12)" font-size="5.4" fill="#d23a56" text-anchor="middle" stroke="#d23a56">32.83</text>
<rect x="184.5" y="313.76" width="1.2" height="1.2" fill="#d23a56"/>
<text transform="translate(185.1 319.12) scale(1.0 1.12)" font-size="5.4" fill="#d23a56" text-anchor="middle" stroke="#d23a56">31.31</text>
<rect x="215.3" y="316.43" width="1.2" height="1.2" fill="#d23a56"/>
<text transform="translate(215.9 321.79) scale(1.0 1.12)" font-size="5.4" fill="#d23a56" text-anchor="middle" stroke="#d23a56">30.33</text>
<rect x="246.2" y="319.69" width="1.2" height="1.2" fill="#d23a56"/>
<text transform="translate(246.8 325.06) scale(1.0 1.12)" font-size="5.4" fill="#d23a56" text-anchor="middle" stroke="#d23a56">29.13</text>
<rect x="20" y="229.3" width="235.5" height="177" fill="none" stroke="#b2b2b2" stroke-width="0.9"/>
<line x1="18.2" y1="400.1" x2="20" y2="400.1" stroke="#b2b2b2" stroke-width="0.7"/>
<text transform="translate(15.9 400.1) rotate(-90)" font-size="5.3" fill="#1a1a1a" text-anchor="middle" stroke="#1a1a1a">0.0</text>
<line x1="18.2" y1="367.18" x2="20" y2="367.18" stroke="#b2b2b2" stroke-width="0.7"/>
<text transform="translate(15.9 367.18) rotate(-90)" font-size="5.3" fill="#1a1a1a" text-anchor="middle" stroke="#1a1a1a">0.2</text>
<line x1="18.2" y1="334.26" x2="20" y2="334.26" stroke="#b2b2b2" stroke-width="0.7"/>
<text transform="translate(15.9 334.26) rotate(-90)" font-size="5.3" fill="#1a1a1a" text-anchor="middle" stroke="#1a1a1a">0.4</text>
<line x1="18.2" y1="301.34" x2="20" y2="301.34" stroke="#b2b2b2" stroke-width="0.7"/>
<text transform="translate(15.9 301.34) rotate(-90)" font-size="5.3" fill="#1a1a1a" text-anchor="middle" stroke="#1a1a1a">0.6</text>
<line x1="18.2" y1="268.42" x2="20" y2="268.42" stroke="#b2b2b2" stroke-width="0.7"/>
<text transform="translate(15.9 268.42) rotate(-90)" font-size="5.3" fill="#1a1a1a" text-anchor="middle" stroke="#1a1a1a">0.8</text>
<line x1="18.2" y1="235.5" x2="20" y2="235.5" stroke="#b2b2b2" stroke-width="0.7"/>
<text transform="translate(15.9 235.5) rotate(-90)" font-size="5.3" fill="#1a1a1a" text-anchor="middle" stroke="#1a1a1a">1.0</text>
<text transform="translate(15.9 244) rotate(-90)" font-size="5.3" fill="#e06060" text-anchor="middle" stroke="#e06060">0.95</text>
<text transform="translate(7.37 317.8) rotate(-90)" font-size="7.45" fill="#1a1a1a" text-anchor="middle" stroke="#1a1a1a">Probability</text>
<line x1="41.9" y1="406.3" x2="41.9" y2="408.1" stroke="#b2b2b2" stroke-width="0.7"/>
<text transform="translate(41.9 413.38) scale(1.0 1.15)" font-size="5.3" fill="#1a1a1a" text-anchor="middle" stroke="#1a1a1a">50</text>
<line x1="72.7" y1="406.3" x2="72.7" y2="408.1" stroke="#b2b2b2" stroke-width="0.7"/>
<text transform="translate(72.7 413.38) scale(1.0 1.15)" font-size="5.3" fill="#1a1a1a" text-anchor="middle" stroke="#1a1a1a">100</text>
<line x1="103.5" y1="406.3" x2="103.5" y2="408.1" stroke="#b2b2b2" stroke-width="0.7"/>
<text transform="translate(103.5 413.38) scale(1.0 1.15)" font-size="5.3" fill="#1a1a1a" text-anchor="middle" stroke="#1a1a1a">200</text>
<line x1="144.2" y1="406.3" x2="144.2" y2="408.1" stroke="#b2b2b2" stroke-width="0.7"/>
<text transform="translate(144.2 413.38) scale(1.0 1.15)" font-size="5.3" fill="#1a1a1a" text-anchor="middle" stroke="#1a1a1a">500</text>
<line x1="175" y1="406.3" x2="175" y2="408.1" stroke="#b2b2b2" stroke-width="0.7"/>
<text transform="translate(175 413.38) scale(1.0 1.15)" font-size="5.3" fill="#1a1a1a" text-anchor="middle" stroke="#1a1a1a">1000</text>
<line x1="205.8" y1="406.3" x2="205.8" y2="408.1" stroke="#b2b2b2" stroke-width="0.7"/>
<text transform="translate(205.8 413.38) scale(1.0 1.15)" font-size="5.3" fill="#1a1a1a" text-anchor="middle" stroke="#1a1a1a">2000</text>
<line x1="246.5" y1="406.3" x2="246.5" y2="408.1" stroke="#b2b2b2" stroke-width="0.7"/>
<text transform="translate(246.5 413.38) scale(1.0 1.15)" font-size="5.3" fill="#1a1a1a" text-anchor="middle" stroke="#1a1a1a">5000</text>
<text transform="translate(137.75 420.5) scale(1.0 1.18)" font-size="7.5" fill="#1a1a1a" text-anchor="middle" stroke="#1a1a1a">Concentration (copies/ml)</text>
<line x1="255.5" y1="399.6" x2="255.5" y2="290.7" stroke="#e6a0b0" stroke-width="1.1"/>
<line x1="255.5" y1="399.6" x2="257.3" y2="399.6" stroke="#e6a0b0" stroke-width="0.7"/>
<text transform="translate(262.2 399.6) rotate(-90)" font-size="5.3" fill="#1a1a1a" text-anchor="middle" stroke="#1a1a1a">0</text>
<line x1="255.5" y1="372.38" x2="257.3" y2="372.38" stroke="#e6a0b0" stroke-width="0.7"/>
<text transform="translate(262.2 372.38) rotate(-90)" font-size="5.3" fill="#1a1a1a" text-anchor="middle" stroke="#1a1a1a">10</text>
<line x1="255.5" y1="345.15" x2="257.3" y2="345.15" stroke="#e6a0b0" stroke-width="0.7"/>
<text transform="translate(262.2 345.15) rotate(-90)" font-size="5.3" fill="#1a1a1a" text-anchor="middle" stroke="#1a1a1a">20</text>
<line x1="255.5" y1="317.93" x2="257.3" y2="317.93" stroke="#e6a0b0" stroke-width="0.7"/>
<text transform="translate(262.2 317.93) rotate(-90)" font-size="5.3" fill="#1a1a1a" text-anchor="middle" stroke="#1a1a1a">30</text>
<line x1="255.5" y1="290.7" x2="257.3" y2="290.7" stroke="#e6a0b0" stroke-width="0.7"/>
<text transform="translate(262.2 290.7) rotate(-90)" font-size="5.3" fill="#1a1a1a" text-anchor="middle" stroke="#1a1a1a">40</text>
<text transform="translate(269.7 317.8) rotate(-90)" font-size="6.15" fill="#d23a56" text-anchor="middle" stroke="#d23a56">Mean Ct value of RdRP gene</text>
<text transform="translate(137.75 223.8) scale(1.0 1.06)" font-size="7.5" fill="#111" text-anchor="middle" font-weight="bold" stroke="#111">Probit Model, 95% LOD = 131.842 [ 72.652 – 3264.383 ]</text>
<text transform="translate(12.8 220.8)" font-size="7.2" fill="#222" text-anchor="start" font-weight="bold" stroke="#222" style="font-family:'Liberation Serif', 'Times New Roman', serif">(B)</text>
</g>
<g>
<line x1="374.91" y1="229.4" x2="374.91" y2="406.3" stroke="#dde9f5" stroke-width="0.9"/>
<line x1="422.14" y1="229.4" x2="422.14" y2="406.3" stroke="#dde9f5" stroke-width="0.9"/>
<line x1="389.34" y1="229.4" x2="389.34" y2="406.3" stroke="#f9dcdc" stroke-width="0.9"/>
<line x1="297.4" y1="243.9" x2="532.7" y2="243.9" stroke="#f9dcdc" stroke-width="1.0"/>
<polyline points="297.4,368.94 297.9,368.43 298.4,367.91 298.9,367.39 299.4,366.87 299.9,366.33 300.4,365.8 300.9,365.25 301.4,364.7 301.9,364.15 302.4,363.59 302.9,363.02 303.4,362.45 303.9,361.87 304.4,361.28 304.9,360.69 305.4,360.1 305.9,359.5 306.4,358.89 306.9,358.27 307.4,357.65 307.9,357.03 308.4,356.4 308.9,355.76 309.4,355.11 309.9,354.46 310.4,353.81 310.9,353.15 311.4,352.48 311.9,351.81 312.4,351.13 312.9,350.44 313.4,349.75 313.9,349.05 314.4,348.35 314.9,347.64 315.4,346.92 315.9,346.2 316.4,345.48 316.9,344.74 317.4,344 317.9,343.26 318.4,342.51 318.9,341.75 319.4,340.99 319.9,340.22 320.4,339.44 320.9,338.66 321.4,337.87 321.9,337.08 322.4,336.28 322.9,335.48 323.4,334.66 323.9,333.85 324.4,333.02 324.9,332.19 325.4,331.36 325.9,330.52 326.4,329.67 326.9,328.82 327.4,327.96 327.9,327.09 328.4,326.22 328.9,325.34 329.4,324.46 329.9,323.57 330.4,322.67 330.9,321.77 331.4,320.86 331.9,319.95 332.4,319.03 332.9,318.1 333.4,317.17 333.9,316.23 334.4,315.28 334.9,314.33 335.4,313.38 335.9,312.42 336.4,311.45 336.9,310.48 337.4,309.5 337.9,308.51 338.4,307.52 338.9,306.53 339.4,305.52 339.9,304.52 340.4,303.51 340.9,302.49 341.4,301.47 341.9,300.44 342.4,299.41 342.9,298.37 343.4,297.33 343.9,296.29 344.4,295.24 344.9,294.19 345.4,293.14 345.9,292.08 346.4,291.02 346.9,289.96 347.4,288.9 347.9,287.83 348.4,286.77 348.9,285.7 349.4,284.63 349.9,283.57 350.4,282.5 350.9,281.44 351.4,280.38 351.9,279.32 352.4,278.26 352.9,277.21 353.4,276.16 353.9,275.12 354.4,274.08 354.9,273.05 355.4,272.02 355.9,271 356.4,269.99 356.9,268.99 357.4,268 357.9,267.02 358.4,266.05 358.9,265.09 359.4,264.15 359.9,263.21 360.4,262.29 360.9,261.39 361.4,260.5 361.9,259.62 362.4,258.76 362.9,257.91 363.4,257.08 363.9,256.27 364.4,255.48 364.9,254.7 365.4,253.94 365.9,253.2 366.4,252.47 366.9,251.77 367.4,251.08 367.9,250.41 368.4,249.76 368.9,249.13 369.4,248.52 369.9,247.93 370.4,247.36 370.9,246.8 371.4,246.27 371.9,245.75 372.4,245.25 372.9,244.77 373.4,244.31 373.9,243.86 374.4,243.44 374.9,243.03 375.4,242.63 375.9,242.25 376.4,241.89 376.9,241.55 377.4,241.22 377.9,240.9 378.4,240.6 378.9,240.32 379.4,240.04 379.9,239.78 380.4,239.54 380.9,239.3 381.4,239.08 381.9,238.87 382.4,238.67 382.9,238.48 383.4,238.31 383.9,238.14 384.4,237.98 384.9,237.83 385.4,237.69 385.9,237.56 386.4,237.43 386.9,237.32 387.4,237.21 387.9,237.1 388.4,237.01 388.9,236.92 389.4,236.83 389.9,236.75 390.4,236.68 390.9,236.61 391.4,236.55 391.9,236.49 392.4,236.43 392.9,236.38 393.4,236.34 393.9,236.29 394.4,236.25 394.9,236.21 395.4,236.18 395.9,236.15 396.4,236.12 396.9,236.09 397.4,236.06 397.9,236.04 398.4,236.02 398.9,236 399.4,235.98 399.9,235.97 400.4,235.95 400.9,235.94 401.4,235.92 401.9,235.91 402.4,235.9 402.9,235.89 403.4,235.88 403.9,235.87 404.4,235.87 404.9,235.86 405.4,235.85 405.9,235.85 406.4,235.84 406.9,235.84 407.4,235.84 407.9,235.83 408.4,235.83 408.9,235.83 409.4,235.82 409.9,235.82 410.4,235.82 410.9,235.82 411.4,235.81 411.9,235.81 412.4,235.81 412.9,235.81 413.4,235.81 413.9,235.81 414.4,235.81 414.9,235.81 415.4,235.81 415.9,235.81 416.4,235.8 416.9,235.8 417.4,235.8 417.9,235.8 418.4,235.8 418.9,235.8 419.4,235.8 419.9,235.8 420.4,235.8 420.9,235.8 421.4,235.8 421.9,235.8 422.4,235.8 422.9,235.8 423.4,235.8 423.9,235.8 424.4,235.8 424.9,235.8 425.4,235.8 425.9,235.8 426.4,235.8 426.9,235.8 427.4,235.8 427.9,235.8 428.4,235.8 428.9,235.8 429.4,235.8 429.9,235.8 430.4,235.8 430.9,235.8 431.4,235.8 431.9,235.8 432.4,235.8 432.9,235.8 433.4,235.8 433.9,235.8 434.4,235.8 434.9,235.8 435.4,235.8 435.9,235.8 436.4,235.8 436.9,235.8 437.4,235.8 437.9,235.8 438.4,235.8 438.9,235.8 439.4,235.8 439.9,235.8 440.4,235.8 440.9,235.8 441.4,235.8 441.9,235.8 442.4,235.8 442.9,235.8 443.4,235.8 443.9,235.8 444.4,235.8 444.9,235.8 445.4,235.8 445.9,235.8 446.4,235.8 446.9,235.8 447.4,235.8 447.9,235.8 448.4,235.8 448.9,235.8 449.4,235.8 449.9,235.8 450.4,235.8 450.9,235.8 451.4,235.8 451.9,235.8 452.4,235.8 452.9,235.8 453.4,235.8 453.9,235.8 454.4,235.8 454.9,235.8 455.4,235.8 455.9,235.8 456.4,235.8 456.9,235.8 457.4,235.8 457.9,235.8 458.4,235.8 458.9,235.8 459.4,235.8 459.9,235.8 460.4,235.8 460.9,235.8 461.4,235.8 461.9,235.8 462.4,235.8 462.9,235.8 463.4,235.8 463.9,235.8 464.4,235.8 464.9,235.8 465.4,235.8 465.9,235.8 466.4,235.8 466.9,235.8 467.4,235.8 467.9,235.8 468.4,235.8 468.9,235.8 469.4,235.8 469.9,235.8 470.4,235.8 470.9,235.8 471.4,235.8 471.9,235.8 472.4,235.8 472.9,235.8 473.4,235.8 473.9,235.8 474.4,235.8 474.9,235.8 475.4,235.8 475.9,235.8 476.4,235.8 476.9,235.8 477.4,235.8 477.9,235.8 478.4,235.8 478.9,235.8 479.4,235.8 479.9,235.8 480.4,235.8 480.9,235.8 481.4,235.8 481.9,235.8 482.4,235.8 482.9,235.8 483.4,235.8 483.9,235.8 484.4,235.8 484.9,235.8 485.4,235.8 485.9,235.8 486.4,235.8 486.9,235.8 487.4,235.8 487.9,235.8 488.4,235.8 488.9,235.8 489.4,235.8 489.9,235.8 490.4,235.8 490.9,235.8 491.4,235.8 491.9,235.8 492.4,235.8 492.9,235.8 493.4,235.8 493.9,235.8 494.4,235.8 494.9,235.8 495.4,235.8 495.9,235.8 496.4,235.8 496.9,235.8 497.4,235.8 497.9,235.8 498.4,235.8 498.9,235.8 499.4,235.8 499.9,235.8 500.4,235.8 500.9,235.8 501.4,235.8 501.9,235.8 502.4,235.8 502.9,235.8 503.4,235.8 503.9,235.8 504.4,235.8 504.9,235.8 505.4,235.8 505.9,235.8 506.4,235.8 506.9,235.8 507.4,235.8 507.9,235.8 508.4,235.8 508.9,235.8 509.4,235.8 509.9,235.8 510.4,235.8 510.9,235.8 511.4,235.8 511.9,235.8 512.4,235.8 512.9,235.8 513.4,235.8 513.9,235.8 514.4,235.8 514.9,235.8 515.4,235.8 515.9,235.8 516.4,235.8 516.9,235.8 517.4,235.8 517.9,235.8 518.4,235.8 518.9,235.8 519.4,235.8 519.9,235.8 520.4,235.8 520.9,235.8 521.4,235.8 521.9,235.8 522.4,235.8 522.9,235.8 523.4,235.8 523.9,235.8" fill="none" stroke="#a8a8a8" stroke-width="0.75" stroke-linejoin="round" stroke-linecap="round"/>
<polyline points="297.4,399.9 297.9,399.89 298.4,399.88 298.9,399.87 299.4,399.85 299.9,399.84 300.4,399.82 300.9,399.8 301.4,399.78 301.9,399.76 302.4,399.74 302.9,399.71 303.4,399.69 303.9,399.66 304.4,399.62 304.9,399.59 305.4,399.55 305.9,399.51 306.4,399.47 306.9,399.42 307.4,399.37 307.9,399.31 308.4,399.25 308.9,399.19 309.4,399.12 309.9,399.04 310.4,398.97 310.9,398.88 311.4,398.79 311.9,398.69 312.4,398.59 312.9,398.47 313.4,398.35 313.9,398.23 314.4,398.09 314.9,397.95 315.4,397.79 315.9,397.63 316.4,397.46 316.9,397.27 317.4,397.08 317.9,396.87 318.4,396.65 318.9,396.42 319.4,396.17 319.9,395.91 320.4,395.64 320.9,395.35 321.4,395.05 321.9,394.73 322.4,394.4 322.9,394.05 323.4,393.68 323.9,393.29 324.4,392.88 324.9,392.46 325.4,392.02 325.9,391.55 326.4,391.07 326.9,390.57 327.4,390.04 327.9,389.5 328.4,388.93 328.9,388.34 329.4,387.72 329.9,387.09 330.4,386.43 330.9,385.74 331.4,385.04 331.9,384.3 332.4,383.55 332.9,382.77 333.4,381.97 333.9,381.14 334.4,380.29 334.9,379.41 335.4,378.51 335.9,377.59 336.4,376.64 336.9,375.67 337.4,374.68 337.9,373.66 338.4,372.63 338.9,371.57 339.4,370.48 339.9,369.38 340.4,368.26 340.9,367.12 341.4,365.95 341.9,364.77 342.4,363.58 342.9,362.36 343.4,361.13 343.9,359.89 344.4,358.63 344.9,357.36 345.4,356.07 345.9,354.78 346.4,353.47 346.9,352.16 347.4,350.83 347.9,349.5 348.4,348.16 348.9,346.82 349.4,345.47 349.9,344.12 350.4,342.77 350.9,341.42 351.4,340.07 351.9,338.71 352.4,337.36 352.9,336.01 353.4,334.67 353.9,333.33 354.4,331.99 354.9,330.67 355.4,329.34 355.9,328.03 356.4,326.72 356.9,325.42 357.4,324.14 357.9,322.86 358.4,321.59 358.9,320.33 359.4,319.09 359.9,317.85 360.4,316.63 360.9,315.42 361.4,314.22 361.9,313.04 362.4,311.87 362.9,310.71 363.4,309.57 363.9,308.44 364.4,307.32 364.9,306.22 365.4,305.12 365.9,304.05 366.4,302.99 366.9,301.94 367.4,300.9 367.9,299.88 368.4,298.87 368.9,297.87 369.4,296.89 369.9,295.92 370.4,294.96 370.9,294.02 371.4,293.09 371.9,292.17 372.4,291.26 372.9,290.37 373.4,289.49 373.9,288.62 374.4,287.76 374.9,286.91 375.4,286.08 375.9,285.26 376.4,284.44 376.9,283.64 377.4,282.85 377.9,282.07 378.4,281.31 378.9,280.55 379.4,279.8 379.9,279.06 380.4,278.33 380.9,277.62 381.4,276.91 381.9,276.21 382.4,275.52 382.9,274.84 383.4,274.18 383.9,273.51 384.4,272.86 384.9,272.22 385.4,271.59 385.9,270.96 386.4,270.35 386.9,269.74 387.4,269.14 387.9,268.55 388.4,267.97 388.9,267.4 389.4,266.83 389.9,266.27 390.4,265.72 390.9,265.18 391.4,264.65 391.9,264.12 392.4,263.6 392.9,263.09 393.4,262.59 393.9,262.09 394.4,261.6 394.9,261.12 395.4,260.65 395.9,260.18 396.4,259.72 396.9,259.26 397.4,258.82 397.9,258.37 398.4,257.94 398.9,257.51 399.4,257.09 399.9,256.68 400.4,256.27 400.9,255.87 401.4,255.47 401.9,255.08 402.4,254.7 402.9,254.32 403.4,253.95 403.9,253.59 404.4,253.23 404.9,252.88 405.4,252.53 405.9,252.19 406.4,251.85 406.9,251.52 407.4,251.19 407.9,250.87 408.4,250.56 408.9,250.25 409.4,249.94 409.9,249.65 410.4,249.35 410.9,249.06 411.4,248.78 411.9,248.5 412.4,248.23 412.9,247.96 413.4,247.69 413.9,247.43 414.4,247.18 414.9,246.93 415.4,246.68 415.9,246.44 416.4,246.2 416.9,245.97 417.4,245.74 417.9,245.52 418.4,245.3 418.9,245.08 419.4,244.87 419.9,244.66 420.4,244.45 420.9,244.25 421.4,244.06 421.9,243.87 422.4,243.68 422.9,243.49 423.4,243.31 423.9,243.13 424.4,242.96 424.9,242.79 425.4,242.62 425.9,242.45 426.4,242.29 426.9,242.14 427.4,241.98 427.9,241.83 428.4,241.68 428.9,241.54 429.4,241.4 429.9,241.26 430.4,241.12 430.9,240.99 431.4,240.86 431.9,240.73 432.4,240.6 432.9,240.48 433.4,240.36 433.9,240.25 434.4,240.13 434.9,240.02 435.4,239.91 435.9,239.8 436.4,239.7 436.9,239.6 437.4,239.5 437.9,239.4 438.4,239.3 438.9,239.21 439.4,239.12 439.9,239.03 440.4,238.94 440.9,238.86 441.4,238.78 441.9,238.7 442.4,238.62 442.9,238.54 443.4,238.46 443.9,238.39 444.4,238.32 444.9,238.25 445.4,238.18 445.9,238.11 446.4,238.05 446.9,237.99 447.4,237.92 447.9,237.86 448.4,237.8 448.9,237.75 449.4,237.69 449.9,237.64 450.4,237.58 450.9,237.53 451.4,237.48 451.9,237.43 452.4,237.38 452.9,237.34 453.4,237.29 453.9,237.25 454.4,237.21 454.9,237.16 455.4,237.12 455.9,237.08 456.4,237.04 456.9,237.01 457.4,236.97 457.9,236.93 458.4,236.9 458.9,236.87 459.4,236.83 459.9,236.8 460.4,236.77 460.9,236.74 461.4,236.71 461.9,236.68 462.4,236.66 462.9,236.63 463.4,236.6 463.9,236.58 464.4,236.55 464.9,236.53 465.4,236.51 465.9,236.48 466.4,236.46 466.9,236.44 467.4,236.42 467.9,236.4 468.4,236.38 468.9,236.36 469.4,236.34 469.9,236.32 470.4,236.31 470.9,236.29 471.4,236.27 471.9,236.26 472.4,236.24 472.9,236.23 473.4,236.21 473.9,236.2 474.4,236.19 474.9,236.17 475.4,236.16 475.9,236.15 476.4,236.14 476.9,236.12 477.4,236.11 477.9,236.1 478.4,236.09 478.9,236.08 479.4,236.07 479.9,236.06 480.4,236.05 480.9,236.04 481.4,236.04 481.9,236.03 482.4,236.02 482.9,236.01 483.4,236 483.9,236 484.4,235.99 484.9,235.98 485.4,235.98 485.9,235.97 486.4,235.96 486.9,235.96 487.4,235.95 487.9,235.95 488.4,235.94 488.9,235.94 489.4,235.93 489.9,235.93 490.4,235.92 490.9,235.92 491.4,235.91 491.9,235.91 492.4,235.9 492.9,235.9 493.4,235.9 493.9,235.89 494.4,235.89 494.9,235.89 495.4,235.88 495.9,235.88 496.4,235.88 496.9,235.87 497.4,235.87 497.9,235.87 498.4,235.87 498.9,235.86 499.4,235.86 499.9,235.86 500.4,235.86 500.9,235.85 501.4,235.85 501.9,235.85 502.4,235.85 502.9,235.85 503.4,235.84 503.9,235.84 504.4,235.84 504.9,235.84 505.4,235.84 505.9,235.84 506.4,235.83 506.9,235.83 507.4,235.83 507.9,235.83 508.4,235.83 508.9,235.83 509.4,235.83 509.9,235.83 510.4,235.82 510.9,235.82 511.4,235.82 511.9,235.82 512.4,235.82 512.9,235.82 513.4,235.82 513.9,235.82 514.4,235.82 514.9,235.82 515.4,235.82 515.9,235.82 516.4,235.81 516.9,235.81 517.4,235.81 517.9,235.81 518.4,235.81 518.9,235.81 519.4,235.81 519.9,235.81 520.4,235.81 520.9,235.81 521.4,235.81 521.9,235.81 522.4,235.81 522.9,235.81 523.4,235.81 523.9,235.81" fill="none" stroke="#a8a8a8" stroke-width="0.75" stroke-linejoin="round" stroke-linecap="round"/>
<polyline points="297.4,396.73 297.9,396.57 298.4,396.4 298.9,396.22 299.4,396.04 299.9,395.85 300.4,395.65 300.9,395.44 301.4,395.23 301.9,395.01 302.4,394.77 302.9,394.53 303.4,394.28 303.9,394.03 304.4,393.76 304.9,393.48 305.4,393.19 305.9,392.89 306.4,392.59 306.9,392.27 307.4,391.94 307.9,391.6 308.4,391.24 308.9,390.88 309.4,390.5 309.9,390.12 310.4,389.72 310.9,389.3 311.4,388.88 311.9,388.44 312.4,387.99 312.9,387.52 313.4,387.04 313.9,386.55 314.4,386.05 314.9,385.53 315.4,384.99 315.9,384.44 316.4,383.88 316.9,383.3 317.4,382.7 317.9,382.1 318.4,381.47 318.9,380.83 319.4,380.18 319.9,379.51 320.4,378.82 320.9,378.12 321.4,377.4 321.9,376.67 322.4,375.92 322.9,375.15 323.4,374.37 323.9,373.57 324.4,372.76 324.9,371.93 325.4,371.08 325.9,370.22 326.4,369.34 326.9,368.45 327.4,367.54 327.9,366.61 328.4,365.67 328.9,364.72 329.4,363.74 329.9,362.76 330.4,361.76 330.9,360.74 331.4,359.71 331.9,358.66 332.4,357.6 332.9,356.53 333.4,355.44 333.9,354.34 334.4,353.23 334.9,352.1 335.4,350.97 335.9,349.81 336.4,348.65 336.9,347.48 337.4,346.29 337.9,345.1 338.4,343.89 338.9,342.67 339.4,341.45 339.9,340.21 340.4,338.97 340.9,337.72 341.4,336.46 341.9,335.19 342.4,333.92 342.9,332.64 343.4,331.35 343.9,330.06 344.4,328.77 344.9,327.47 345.4,326.16 345.9,324.86 346.4,323.54 346.9,322.23 347.4,320.92 347.9,319.6 348.4,318.29 348.9,316.97 349.4,315.65 349.9,314.34 350.4,313.03 350.9,311.71 351.4,310.41 351.9,309.1 352.4,307.8 352.9,306.5 353.4,305.2 353.9,303.92 354.4,302.63 354.9,301.35 355.4,300.08 355.9,298.82 356.4,297.56 356.9,296.32 357.4,295.08 357.9,293.84 358.4,292.62 358.9,291.41 359.4,290.21 359.9,289.02 360.4,287.84 360.9,286.67 361.4,285.51 361.9,284.36 362.4,283.23 362.9,282.11 363.4,281 363.9,279.91 364.4,278.82 364.9,277.76 365.4,276.7 365.9,275.66 366.4,274.64 366.9,273.63 367.4,272.63 367.9,271.65 368.4,270.69 368.9,269.74 369.4,268.8 369.9,267.89 370.4,266.98 370.9,266.1 371.4,265.22 371.9,264.37 372.4,263.53 372.9,262.71 373.4,261.9 373.9,261.11 374.4,260.33 374.9,259.57 375.4,258.83 375.9,258.1 376.4,257.39 376.9,256.7 377.4,256.02 377.9,255.35 378.4,254.7 378.9,254.07 379.4,253.45 379.9,252.85 380.4,252.26 380.9,251.69 381.4,251.13 381.9,250.59 382.4,250.06 382.9,249.54 383.4,249.04 383.9,248.56 384.4,248.08 384.9,247.62 385.4,247.18 385.9,246.75 386.4,246.32 386.9,245.92 387.4,245.52 387.9,245.14 388.4,244.77 388.9,244.41 389.4,244.06 389.9,243.73 390.4,243.4 390.9,243.09 391.4,242.78 391.9,242.49 392.4,242.2 392.9,241.93 393.4,241.67 393.9,241.41 394.4,241.17 394.9,240.93 395.4,240.7 395.9,240.48 396.4,240.27 396.9,240.07 397.4,239.87 397.9,239.69 398.4,239.5 398.9,239.33 399.4,239.16 399.9,239 400.4,238.85 400.9,238.7 401.4,238.56 401.9,238.43 402.4,238.3 402.9,238.18 403.4,238.06 403.9,237.94 404.4,237.84 404.9,237.73 405.4,237.63 405.9,237.54 406.4,237.45 406.9,237.36 407.4,237.28 407.9,237.2 408.4,237.13 408.9,237.06 409.4,236.99 409.9,236.92 410.4,236.86 410.9,236.8 411.4,236.75 411.9,236.69 412.4,236.64 412.9,236.6 413.4,236.55 413.9,236.51 414.4,236.47 414.9,236.43 415.4,236.39 415.9,236.36 416.4,236.32 416.9,236.29 417.4,236.26 417.9,236.24 418.4,236.21 418.9,236.19 419.4,236.16 419.9,236.14 420.4,236.12 420.9,236.1 421.4,236.08 421.9,236.06 422.4,236.05 422.9,236.03 423.4,236.02 423.9,236 424.4,235.99 424.9,235.98 425.4,235.97 425.9,235.95 426.4,235.94 426.9,235.93 427.4,235.93 427.9,235.92 428.4,235.91 428.9,235.9 429.4,235.89 429.9,235.89 430.4,235.88 430.9,235.88 431.4,235.87 431.9,235.87 432.4,235.86 432.9,235.86 433.4,235.85 433.9,235.85 434.4,235.85 434.9,235.84 435.4,235.84 435.9,235.84 436.4,235.83 436.9,235.83 437.4,235.83 437.9,235.83 438.4,235.83 438.9,235.82 439.4,235.82 439.9,235.82 440.4,235.82 440.9,235.82 441.4,235.82 441.9,235.81 442.4,235.81 442.9,235.81 443.4,235.81 443.9,235.81 444.4,235.81 444.9,235.81 445.4,235.81 445.9,235.81 446.4,235.81 446.9,235.81 447.4,235.81 447.9,235.81 448.4,235.8 448.9,235.8 449.4,235.8 449.9,235.8 450.4,235.8 450.9,235.8 451.4,235.8 451.9,235.8 452.4,235.8 452.9,235.8 453.4,235.8 453.9,235.8 454.4,235.8 454.9,235.8 455.4,235.8 455.9,235.8 456.4,235.8 456.9,235.8 457.4,235.8 457.9,235.8 458.4,235.8 458.9,235.8 459.4,235.8 459.9,235.8 460.4,235.8 460.9,235.8 461.4,235.8 461.9,235.8 462.4,235.8 462.9,235.8 463.4,235.8 463.9,235.8 464.4,235.8 464.9,235.8 465.4,235.8 465.9,235.8 466.4,235.8 466.9,235.8 467.4,235.8 467.9,235.8 468.4,235.8 468.9,235.8 469.4,235.8 469.9,235.8 470.4,235.8 470.9,235.8 471.4,235.8 471.9,235.8 472.4,235.8 472.9,235.8 473.4,235.8 473.9,235.8 474.4,235.8 474.9,235.8 475.4,235.8 475.9,235.8 476.4,235.8 476.9,235.8 477.4,235.8 477.9,235.8 478.4,235.8 478.9,235.8 479.4,235.8 479.9,235.8 480.4,235.8 480.9,235.8 481.4,235.8 481.9,235.8 482.4,235.8 482.9,235.8 483.4,235.8 483.9,235.8 484.4,235.8 484.9,235.8 485.4,235.8 485.9,235.8 486.4,235.8 486.9,235.8 487.4,235.8 487.9,235.8 488.4,235.8 488.9,235.8 489.4,235.8 489.9,235.8 490.4,235.8 490.9,235.8 491.4,235.8 491.9,235.8 492.4,235.8 492.9,235.8 493.4,235.8 493.9,235.8 494.4,235.8 494.9,235.8 495.4,235.8 495.9,235.8 496.4,235.8 496.9,235.8 497.4,235.8 497.9,235.8 498.4,235.8 498.9,235.8 499.4,235.8 499.9,235.8 500.4,235.8 500.9,235.8 501.4,235.8 501.9,235.8 502.4,235.8 502.9,235.8 503.4,235.8 503.9,235.8 504.4,235.8 504.9,235.8 505.4,235.8 505.9,235.8 506.4,235.8 506.9,235.8 507.4,235.8 507.9,235.8 508.4,235.8 508.9,235.8 509.4,235.8 509.9,235.8 510.4,235.8 510.9,235.8 511.4,235.8 511.9,235.8 512.4,235.8 512.9,235.8 513.4,235.8 513.9,235.8 514.4,235.8 514.9,235.8 515.4,235.8 515.9,235.8 516.4,235.8 516.9,235.8 517.4,235.8 517.9,235.8 518.4,235.8 518.9,235.8 519.4,235.8 519.9,235.8 520.4,235.8 520.9,235.8 521.4,235.8 521.9,235.8 522.4,235.8 522.9,235.8 523.4,235.8 523.9,235.8" fill="none" stroke="#555555" stroke-width="1.0" stroke-linejoin="round" stroke-linecap="round"/>
<rect x="304.8" y="399.1" width="1.6" height="1.6" fill="#222"/>
<rect x="338.1" y="317.2" width="1.6" height="1.6" fill="#222"/>
<rect x="369.1" y="276" width="1.6" height="1.6" fill="#222"/>
<rect x="400" y="234.9" width="1.6" height="1.6" fill="#222"/>
<rect x="430.8" y="234.9" width="1.6" height="1.6" fill="#222"/>
<rect x="461.8" y="234.9" width="1.6" height="1.6" fill="#222"/>
<rect x="492.7" y="234.9" width="1.6" height="1.6" fill="#222"/>
<rect x="523.4" y="234.9" width="1.6" height="1.6" fill="#222"/>
<line x1="340.3" y1="307.06" x2="368.5" y2="309.22" stroke="#dc6878" stroke-width="1.0"/>
<line x1="371.29" y1="309.51" x2="399.41" y2="313.13" stroke="#dc6878" stroke-width="1.0"/>
<line x1="402.19" y1="313.47" x2="430.21" y2="316.64" stroke="#dc6878" stroke-width="1.0"/>
<line x1="433" y1="316.9" x2="461.2" y2="318.96" stroke="#dc6878" stroke-width="1.0"/>
<line x1="463.99" y1="319.21" x2="492.11" y2="322.19" stroke="#dc6878" stroke-width="1.0"/>
<line x1="494.89" y1="322.46" x2="522.81" y2="324.89" stroke="#dc6878" stroke-width="1.0"/>
<rect x="338.3" y="306.36" width="1.2" height="1.2" fill="#d23a56"/>
<text transform="translate(338.9 312.32) scale(1.0 1.12)" font-size="5.4" fill="#d23a56" text-anchor="middle" stroke="#d23a56">34.04</text>
<rect x="369.3" y="308.73" width="1.2" height="1.2" fill="#d23a56"/>
<text transform="translate(369.9 314.69) scale(1.0 1.12)" font-size="5.4" fill="#d23a56" text-anchor="middle" stroke="#d23a56">33.17</text>
<rect x="400.2" y="312.71" width="1.2" height="1.2" fill="#d23a56"/>
<text transform="translate(400.8 318.68) scale(1.0 1.12)" font-size="5.4" fill="#d23a56" text-anchor="middle" stroke="#d23a56">31.71</text>
<rect x="431" y="316.2" width="1.2" height="1.2" fill="#d23a56"/>
<text transform="translate(431.6 322.17) scale(1.0 1.12)" font-size="5.4" fill="#d23a56" text-anchor="middle" stroke="#d23a56">30.43</text>
<rect x="462" y="318.47" width="1.2" height="1.2" fill="#d23a56"/>
<text transform="translate(462.6 324.43) scale(1.0 1.12)" font-size="5.4" fill="#d23a56" text-anchor="middle" stroke="#d23a56">29.6</text>
<rect x="492.9" y="321.74" width="1.2" height="1.2" fill="#d23a56"/>
<text transform="translate(493.5 327.7) scale(1.0 1.12)" font-size="5.4" fill="#d23a56" text-anchor="middle" stroke="#d23a56">28.4</text>
<rect x="523.6" y="324.41" width="1.2" height="1.2" fill="#d23a56"/>
<text transform="translate(524.2 330.38) scale(1.0 1.12)" font-size="5.4" fill="#d23a56" text-anchor="middle" stroke="#d23a56">27.42</text>
<rect x="297.4" y="229.4" width="235.3" height="176.9" fill="none" stroke="#b2b2b2" stroke-width="0.9"/>
<line x1="295.6" y1="400" x2="297.4" y2="400" stroke="#b2b2b2" stroke-width="0.7"/>
<text transform="translate(293.3 400) rotate(-90)" font-size="5.3" fill="#1a1a1a" text-anchor="middle" stroke="#1a1a1a">0.0</text>
<line x1="295.6" y1="367.16" x2="297.4" y2="367.16" stroke="#b2b2b2" stroke-width="0.7"/>
<text transform="translate(293.3 367.16) rotate(-90)" font-size="5.3" fill="#1a1a1a" text-anchor="middle" stroke="#1a1a1a">0.2</text>
<line x1="295.6" y1="334.32" x2="297.4" y2="334.32" stroke="#b2b2b2" stroke-width="0.7"/>
<text transform="translate(293.3 334.32) rotate(-90)" font-size="5.3" fill="#1a1a1a" text-anchor="middle" stroke="#1a1a1a">0.4</text>
<line x1="295.6" y1="301.48" x2="297.4" y2="301.48" stroke="#b2b2b2" stroke-width="0.7"/>
<text transform="translate(293.3 301.48) rotate(-90)" font-size="5.3" fill="#1a1a1a" text-anchor="middle" stroke="#1a1a1a">0.6</text>
<line x1="295.6" y1="268.64" x2="297.4" y2="268.64" stroke="#b2b2b2" stroke-width="0.7"/>
<text transform="translate(293.3 268.64) rotate(-90)" font-size="5.3" fill="#1a1a1a" text-anchor="middle" stroke="#1a1a1a">0.8</text>
<line x1="295.6" y1="235.8" x2="297.4" y2="235.8" stroke="#b2b2b2" stroke-width="0.7"/>
<text transform="translate(293.3 235.8) rotate(-90)" font-size="5.3" fill="#1a1a1a" text-anchor="middle" stroke="#1a1a1a">1.0</text>
<text transform="translate(293.3 243.9) rotate(-90)" font-size="5.3" fill="#e06060" text-anchor="middle" stroke="#e06060">0.95</text>
<text transform="translate(286.07 317.85) rotate(-90)" font-size="7.45" fill="#1a1a1a" text-anchor="middle" stroke="#1a1a1a">Probability</text>
<line x1="319.11" y1="406.3" x2="319.11" y2="408.1" stroke="#b2b2b2" stroke-width="0.7"/>
<text transform="translate(319.11 413.38) scale(1.0 1.15)" font-size="5.3" fill="#1a1a1a" text-anchor="middle" stroke="#1a1a1a">50</text>
<line x1="350" y1="406.3" x2="350" y2="408.1" stroke="#b2b2b2" stroke-width="0.7"/>
<text transform="translate(350 413.38) scale(1.0 1.15)" font-size="5.3" fill="#1a1a1a" text-anchor="middle" stroke="#1a1a1a">100</text>
<line x1="380.89" y1="406.3" x2="380.89" y2="408.1" stroke="#b2b2b2" stroke-width="0.7"/>
<text transform="translate(380.89 413.38) scale(1.0 1.15)" font-size="5.3" fill="#1a1a1a" text-anchor="middle" stroke="#1a1a1a">200</text>
<line x1="421.71" y1="406.3" x2="421.71" y2="408.1" stroke="#b2b2b2" stroke-width="0.7"/>
<text transform="translate(421.71 413.38) scale(1.0 1.15)" font-size="5.3" fill="#1a1a1a" text-anchor="middle" stroke="#1a1a1a">500</text>
<line x1="452.6" y1="406.3" x2="452.6" y2="408.1" stroke="#b2b2b2" stroke-width="0.7"/>
<text transform="translate(452.6 413.38) scale(1.0 1.15)" font-size="5.3" fill="#1a1a1a" text-anchor="middle" stroke="#1a1a1a">1000</text>
<line x1="483.49" y1="406.3" x2="483.49" y2="408.1" stroke="#b2b2b2" stroke-width="0.7"/>
<text transform="translate(483.49 413.38) scale(1.0 1.15)" font-size="5.3" fill="#1a1a1a" text-anchor="middle" stroke="#1a1a1a">2000</text>
<line x1="524.31" y1="406.3" x2="524.31" y2="408.1" stroke="#b2b2b2" stroke-width="0.7"/>
<text transform="translate(524.31 413.38) scale(1.0 1.15)" font-size="5.3" fill="#1a1a1a" text-anchor="middle" stroke="#1a1a1a">5000</text>
<text transform="translate(415.05 420.5) scale(1.0 1.18)" font-size="7.5" fill="#1a1a1a" text-anchor="middle" stroke="#1a1a1a">Concentration (copies/ml)</text>
<line x1="532.7" y1="399.8" x2="532.7" y2="290.7" stroke="#e6a0b0" stroke-width="1.1"/>
<line x1="532.7" y1="399.8" x2="534.5" y2="399.8" stroke="#e6a0b0" stroke-width="0.7"/>
<text transform="translate(539.4 399.8) rotate(-90)" font-size="5.3" fill="#1a1a1a" text-anchor="middle" stroke="#1a1a1a">0</text>
<line x1="532.7" y1="372.53" x2="534.5" y2="372.53" stroke="#e6a0b0" stroke-width="0.7"/>
<text transform="translate(539.4 372.53) rotate(-90)" font-size="5.3" fill="#1a1a1a" text-anchor="middle" stroke="#1a1a1a">10</text>
<line x1="532.7" y1="345.25" x2="534.5" y2="345.25" stroke="#e6a0b0" stroke-width="0.7"/>
<text transform="translate(539.4 345.25) rotate(-90)" font-size="5.3" fill="#1a1a1a" text-anchor="middle" stroke="#1a1a1a">20</text>
<line x1="532.7" y1="317.98" x2="534.5" y2="317.98" stroke="#e6a0b0" stroke-width="0.7"/>
<text transform="translate(539.4 317.98) rotate(-90)" font-size="5.3" fill="#1a1a1a" text-anchor="middle" stroke="#1a1a1a">30</text>
<line x1="532.7" y1="290.7" x2="534.5" y2="290.7" stroke="#e6a0b0" stroke-width="0.7"/>
<text transform="translate(539.4 290.7) rotate(-90)" font-size="5.3" fill="#1a1a1a" text-anchor="middle" stroke="#1a1a1a">40</text>
<text transform="translate(546.83 317.85) rotate(-90)" font-size="5.95" fill="#d23a56" text-anchor="middle" stroke="#d23a56">Mean Ct value of E gene</text>
<text transform="translate(415.05 223.9) scale(1.0 1.06)" font-size="7.5" fill="#111" text-anchor="middle" font-weight="bold" stroke="#111">Probit Model, 95% LOD = 241.77 [ 174.903 – 504.756 ]</text>
<text transform="translate(295.5 222)" font-size="7.2" fill="#222" text-anchor="start" font-weight="bold" stroke="#222" style="font-family:'Liberation Serif', 'Times New Roman', serif">(C)</text>
</g>
</svg></div>
</body></html>
